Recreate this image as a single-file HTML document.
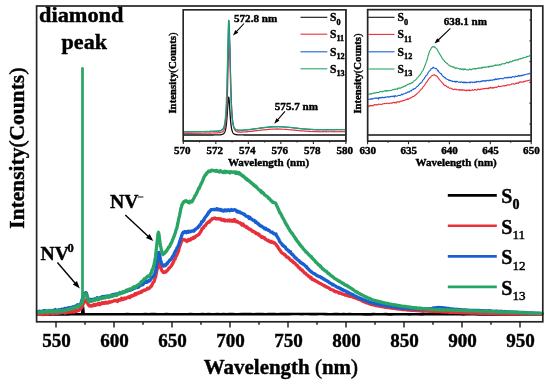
<!DOCTYPE html>
<html><head><meta charset="utf-8">
<style>
html,body{margin:0;padding:0;background:#fff;}
body{width:550px;height:385px;overflow:hidden;}
svg{display:block;will-change:transform;}
text{font-family:"Liberation Serif",serif;font-weight:bold;fill:#000;stroke:#000;stroke-width:0.4px;}
</style></head><body>
<svg width="550" height="385" viewBox="0 0 550 385">
<rect width="550" height="385" fill="#fff"/>
<!-- main curves -->
<g fill="none" stroke-linejoin="round" stroke-linecap="round">
<path d="M37.50 314.50 L40.50 314.26 L43.50 314.41 L46.50 314.35 L49.50 314.35 L52.50 314.35 L55.50 314.26 L58.50 314.34 L61.50 314.30 L64.50 314.50 L67.50 314.34 L70.50 314.31 L73.50 314.30 L76.50 314.28 L79.50 314.25 L82.10 314.29 L82.88 306.50 L82.92 306.50 L83.70 314.29 L85.50 314.31 L88.50 314.26 L91.50 314.31 L94.50 314.25 L97.50 314.25 L100.50 314.31 L103.50 314.25 L106.50 314.19 L109.50 314.20 L112.50 314.23 L115.50 314.30 L118.50 314.19 L121.50 314.19 L124.50 314.25 L127.50 314.16 L130.50 314.19 L133.50 314.24 L136.50 314.23 L139.50 314.20 L142.50 314.23 L145.50 314.06 L148.50 314.25 L151.50 314.15 L154.50 314.12 L157.50 314.21 L160.50 314.24 L163.50 314.18 L166.50 314.15 L169.50 314.20 L172.50 314.20 L175.50 314.27 L178.50 314.24 L181.50 314.21 L184.50 314.26 L187.50 314.19 L190.50 314.15 L193.50 314.23 L196.50 314.23 L199.50 314.19 L202.50 314.16 L205.50 314.21 L208.50 314.07 L211.50 314.23 L214.50 314.22 L217.50 314.11 L220.50 314.19 L223.50 314.14 L226.50 314.22 L229.50 314.08 L232.50 314.13 L235.50 314.21 L238.50 314.22 L241.50 314.05 L244.50 314.13 L247.50 314.17 L250.50 314.12 L253.50 314.22 L256.50 314.08 L259.50 314.15 L262.50 314.08 L265.50 314.20 L268.50 314.12 L271.50 314.10 L274.50 314.03 L277.50 314.20 L280.50 314.15 L283.50 314.14 L286.50 314.16 L289.50 314.12 L292.50 314.07 L295.50 314.06 L298.50 314.06 L301.50 314.17 L304.50 314.03 L307.50 314.07 L310.50 314.09 L313.50 314.12 L316.50 314.14 L319.50 314.06 L322.50 314.04 L325.50 314.13 L328.50 314.20 L331.50 314.18 L334.50 314.17 L337.50 314.15 L340.50 314.19 L343.50 314.17 L346.50 314.23 L349.50 314.16 L352.50 314.21 L355.50 314.21 L358.50 314.25 L361.50 314.25 L364.50 314.37 L367.50 314.33 L370.50 314.33 L373.50 314.16 L376.50 314.26 L379.50 314.25 L382.50 314.31 L385.50 314.17 L388.50 314.35 L391.50 314.35 L394.50 314.23 L397.50 314.25 L400.50 314.26 L403.50 314.30 L406.50 314.32 L409.50 314.39 L412.50 314.27 L415.50 314.30 L418.50 314.26 L421.50 314.33 L424.50 314.27 L427.50 314.29 L430.50 314.16 L433.50 314.20 L436.50 314.16 L439.50 314.28 L442.50 314.23 L445.50 314.19 L448.50 314.19 L451.50 314.24 L454.50 314.19 L457.50 314.19 L460.50 314.28 L463.50 314.39 L466.50 314.27 L469.50 314.27 L472.50 314.25 L475.50 314.26 L478.50 314.37 L481.50 314.40 L484.50 314.37 L487.50 314.39 L490.50 314.39 L493.50 314.40 L496.50 314.32 L499.50 314.38 L502.50 314.41 L505.50 314.36 L508.50 314.38 L511.50 314.36 L514.50 314.38 L517.50 314.44 L520.50 314.38 L523.50 314.39 L526.50 314.44 L529.50 314.43 L532.50 314.48 L535.50 314.30 L538.50 314.44 L541.50 314.38" stroke="#000" stroke-width="2.6"/>
<path d="M37.50 313.93 L38.00 314.18 L38.50 314.26 L39.00 314.22 L39.50 313.87 L40.00 314.40 L40.50 313.67 L41.00 313.70 L41.50 314.04 L42.00 313.51 L42.50 314.52 L43.00 314.06 L43.50 314.48 L44.00 313.63 L44.50 313.47 L45.00 313.66 L45.50 313.85 L46.00 313.33 L46.50 313.68 L47.00 313.50 L47.50 314.10 L48.00 313.22 L48.50 313.84 L49.00 313.18 L49.50 313.04 L50.00 313.11 L50.50 312.91 L51.00 313.39 L51.50 313.71 L52.00 313.35 L52.50 313.51 L53.00 313.87 L53.50 313.33 L54.00 313.27 L54.50 313.07 L55.00 312.54 L55.50 313.42 L56.00 312.44 L56.50 313.33 L57.00 313.05 L57.50 313.46 L58.00 312.98 L58.50 312.67 L59.00 313.09 L59.50 312.72 L60.00 312.83 L60.50 312.89 L61.00 312.79 L61.50 312.74 L62.00 312.46 L62.50 312.67 L63.00 311.90 L63.50 312.62 L64.00 312.19 L64.50 313.03 L65.00 313.05 L65.50 311.79 L66.00 312.54 L66.50 312.40 L67.00 312.00 L67.50 312.55 L68.00 312.12 L68.50 311.57 L69.00 312.09 L69.50 312.07 L70.00 312.10 L70.50 311.52 L71.00 312.14 L71.50 312.11 L72.00 311.31 L72.50 311.40 L73.00 311.52 L73.50 311.24 L74.00 312.01 L74.50 311.31 L75.00 310.71 L75.50 310.64 L76.00 310.75 L76.50 311.46 L77.00 310.33 L77.50 310.25 L78.00 310.20 L78.50 309.79 L79.00 310.48 L79.50 309.19 L80.00 309.41 L80.50 308.86 L81.00 308.51 L81.50 307.05 L82.00 307.22 L82.50 305.47 L83.00 304.48 L83.50 303.14 L84.00 302.14 L84.50 301.41 L85.00 300.58 L85.50 300.09 L86.00 300.62 L86.50 301.29 L87.00 302.08 L87.50 303.32 L88.00 304.11 L88.50 304.78 L89.00 305.75 L89.50 306.09 L90.00 305.67 L90.50 305.42 L91.00 305.79 L91.50 306.18 L92.00 305.31 L92.50 305.28 L93.00 305.18 L93.50 305.60 L94.00 304.34 L94.50 305.08 L95.00 305.28 L95.50 304.41 L96.00 305.18 L96.50 304.71 L97.00 304.19 L97.50 304.37 L98.00 303.60 L98.50 303.88 L99.00 304.69 L99.50 303.57 L100.00 304.53 L100.50 303.71 L101.00 304.03 L101.50 303.59 L102.00 302.63 L102.50 303.18 L103.00 303.38 L103.50 302.79 L104.00 302.62 L104.50 303.19 L105.00 302.71 L105.50 302.22 L106.00 302.52 L106.50 303.01 L107.00 302.41 L107.50 302.85 L108.00 302.98 L108.50 302.32 L109.00 301.77 L109.50 301.61 L110.00 301.99 L110.50 302.23 L111.00 301.89 L111.50 301.89 L112.00 301.41 L112.50 301.58 L113.00 301.18 L113.50 301.13 L114.00 300.65 L114.50 300.43 L115.00 300.73 L115.50 300.38 L116.00 300.32 L116.50 300.82 L117.00 300.41 L117.50 301.43 L118.00 300.56 L118.50 299.84 L119.00 300.25 L119.50 299.96 L120.00 299.44 L120.50 299.99 L121.00 299.14 L121.50 298.14 L122.00 299.47 L122.50 298.79 L123.00 299.45 L123.50 298.50 L124.00 298.15 L124.50 299.04 L125.00 297.89 L125.50 298.22 L126.00 298.54 L126.50 297.87 L127.00 297.63 L127.50 297.53 L128.00 297.64 L128.50 296.84 L129.00 297.20 L129.50 297.00 L130.00 297.49 L130.50 296.28 L131.00 295.87 L131.50 296.30 L132.00 295.68 L132.50 295.74 L133.00 295.48 L133.50 295.67 L134.00 294.77 L134.50 294.77 L135.00 293.63 L135.50 294.05 L136.00 294.75 L136.50 293.70 L137.00 293.47 L137.50 293.06 L138.00 293.52 L138.50 293.14 L139.00 292.39 L139.50 292.85 L140.00 292.45 L140.50 292.38 L141.00 291.59 L141.50 292.23 L142.00 291.47 L142.50 291.01 L143.00 290.59 L143.50 290.44 L144.00 290.61 L144.50 289.94 L145.00 290.21 L145.50 289.80 L146.00 289.90 L146.50 289.52 L147.00 289.01 L147.50 288.13 L148.00 288.78 L148.50 288.76 L149.00 288.28 L149.50 288.14 L150.00 287.42 L150.50 286.98 L151.00 286.10 L151.50 286.20 L152.00 284.90 L152.50 283.81 L153.00 282.62 L153.50 282.13 L154.00 281.69 L154.50 280.14 L155.00 278.32 L155.50 277.30 L156.00 274.91 L156.50 272.15 L157.00 269.59 L157.50 267.59 L158.00 265.03 L158.50 263.13 L159.00 261.70 L159.50 263.49 L160.00 265.06 L160.50 267.88 L161.00 267.65 L161.50 269.75 L162.00 270.84 L162.50 271.19 L163.00 272.11 L163.50 272.55 L164.00 272.50 L164.50 271.98 L165.00 271.95 L165.50 272.13 L166.00 271.90 L166.50 271.08 L167.00 270.64 L167.50 270.22 L168.00 270.04 L168.50 268.72 L169.00 268.08 L169.50 268.09 L170.00 267.08 L170.50 266.70 L171.00 266.30 L171.50 265.72 L172.00 264.34 L172.50 264.19 L173.00 262.30 L173.50 262.23 L174.00 260.43 L174.50 259.51 L175.00 259.19 L175.50 257.71 L176.00 256.47 L176.50 255.51 L177.00 254.75 L177.50 253.46 L178.00 252.18 L178.50 251.09 L179.00 248.77 L179.50 247.14 L180.00 245.40 L180.50 244.41 L181.00 242.85 L181.50 241.70 L182.00 240.23 L182.50 239.60 L183.00 239.83 L183.50 239.41 L184.00 239.99 L184.50 240.11 L185.00 239.75 L185.50 240.17 L186.00 240.32 L186.50 241.16 L187.00 241.57 L187.50 240.56 L188.00 240.54 L188.50 239.56 L189.00 240.35 L189.50 240.07 L190.00 239.44 L190.50 239.89 L191.00 238.73 L191.50 238.97 L192.00 238.83 L192.50 238.03 L193.00 238.57 L193.50 238.38 L194.00 237.17 L194.50 236.86 L195.00 237.31 L195.50 236.74 L196.00 235.94 L196.50 235.92 L197.00 235.60 L197.50 235.17 L198.00 235.10 L198.50 234.45 L199.00 234.40 L199.50 233.60 L200.00 232.61 L200.50 232.00 L201.00 231.31 L201.50 230.28 L202.00 228.76 L202.50 228.79 L203.00 227.79 L203.50 227.73 L204.00 226.57 L204.50 226.16 L205.00 225.53 L205.50 225.49 L206.00 224.39 L206.50 223.70 L207.00 223.43 L207.50 222.67 L208.00 222.45 L208.50 221.97 L209.00 221.68 L209.50 221.93 L210.00 220.64 L210.50 220.41 L211.00 219.92 L211.50 219.87 L212.00 218.81 L212.50 218.68 L213.00 218.66 L213.50 218.68 L214.00 218.33 L214.50 218.11 L215.00 217.98 L215.50 218.55 L216.00 218.96 L216.50 218.61 L217.00 218.65 L217.50 218.85 L218.00 218.43 L218.50 218.78 L219.00 218.90 L219.50 219.22 L220.00 219.19 L220.50 218.83 L221.00 219.82 L221.50 220.15 L222.00 219.52 L222.50 219.89 L223.00 219.97 L223.50 220.28 L224.00 219.54 L224.50 220.82 L225.00 220.13 L225.50 220.88 L226.00 220.51 L226.50 220.39 L227.00 220.52 L227.50 220.94 L228.00 220.27 L228.50 220.46 L229.00 220.42 L229.50 219.95 L230.00 221.09 L230.50 220.82 L231.00 220.59 L231.50 221.04 L232.00 220.24 L232.50 220.57 L233.00 221.26 L233.50 220.98 L234.00 219.81 L234.50 219.48 L235.00 220.48 L235.50 221.44 L236.00 221.03 L236.50 221.33 L237.00 221.85 L237.50 221.50 L238.00 222.13 L238.50 222.56 L239.00 222.65 L239.50 222.86 L240.00 222.74 L240.50 223.45 L241.00 223.38 L241.50 224.35 L242.00 225.14 L242.50 224.21 L243.00 223.98 L243.50 224.96 L244.00 225.58 L244.50 226.15 L245.00 226.47 L245.50 226.09 L246.00 226.41 L246.50 227.51 L247.00 226.95 L247.50 228.10 L248.00 227.94 L248.50 228.64 L249.00 228.94 L249.50 229.29 L250.00 229.62 L250.50 229.28 L251.00 230.07 L251.50 230.29 L252.00 230.72 L252.50 231.38 L253.00 231.15 L253.50 231.30 L254.00 231.61 L254.50 232.08 L255.00 232.77 L255.50 232.51 L256.00 233.52 L256.50 233.51 L257.00 233.63 L257.50 233.53 L258.00 234.39 L258.50 234.84 L259.00 234.27 L259.50 235.61 L260.00 236.08 L260.50 235.93 L261.00 236.30 L261.50 237.30 L262.00 237.22 L262.50 236.82 L263.00 237.46 L263.50 237.75 L264.00 238.09 L264.50 237.67 L265.00 239.06 L265.50 238.90 L266.00 239.48 L266.50 239.67 L267.00 240.29 L267.50 240.16 L268.00 240.23 L268.50 240.90 L269.00 241.39 L269.50 241.00 L270.00 241.74 L270.50 241.54 L271.00 241.45 L271.50 242.29 L272.00 241.71 L272.50 242.49 L273.00 242.21 L273.50 242.75 L274.00 242.45 L274.50 242.84 L275.00 243.76 L275.50 243.86 L276.00 244.38 L276.50 245.00 L277.00 246.13 L277.50 246.36 L278.00 247.22 L278.50 248.31 L279.00 248.88 L279.50 249.65 L280.00 250.48 L280.50 251.02 L281.00 251.54 L281.50 252.63 L282.00 252.93 L282.50 253.47 L283.00 253.55 L283.50 253.85 L284.00 253.99 L284.50 254.74 L285.00 254.63 L285.50 255.48 L286.00 256.27 L286.50 256.91 L287.00 257.09 L287.50 256.93 L288.00 257.70 L288.50 257.70 L289.00 258.55 L289.50 258.66 L290.00 259.33 L290.50 260.21 L291.00 260.14 L291.50 260.95 L292.00 260.76 L292.50 261.05 L293.00 261.98 L293.50 262.55 L294.00 262.39 L294.50 263.05 L295.00 263.13 L295.50 263.97 L296.00 264.78 L296.50 265.02 L297.00 265.39 L297.50 265.67 L298.00 266.66 L298.50 267.27 L299.00 267.71 L299.50 268.10 L300.00 268.16 L300.50 269.44 L301.00 269.42 L301.50 269.87 L302.00 270.58 L302.50 270.28 L303.00 271.31 L303.50 271.75 L304.00 272.35 L304.50 273.07 L305.00 273.30 L305.50 273.15 L306.00 273.98 L306.50 274.56 L307.00 274.97 L307.50 275.03 L308.00 275.35 L308.50 276.31 L309.00 276.65 L309.50 276.93 L310.00 276.87 L310.50 278.10 L311.00 277.28 L311.50 278.25 L312.00 279.19 L312.50 278.96 L313.00 279.37 L313.50 279.35 L314.00 280.27 L314.50 279.93 L315.00 280.61 L315.50 280.87 L316.00 280.88 L316.50 281.63 L317.00 281.37 L317.50 281.83 L318.00 282.26 L318.50 282.45 L319.00 282.93 L319.50 283.31 L320.00 283.30 L320.50 283.52 L321.00 283.79 L321.50 284.10 L322.00 284.64 L322.50 284.68 L323.00 285.09 L323.50 285.25 L324.00 285.36 L324.50 286.01 L325.00 285.87 L325.50 286.37 L326.00 286.97 L326.50 286.68 L327.00 287.18 L327.50 287.12 L328.00 287.62 L328.50 287.67 L329.00 288.18 L329.50 288.41 L330.00 288.81 L330.50 289.37 L331.00 289.35 L331.50 289.68 L332.00 289.78 L332.50 289.98 L333.00 290.10 L333.50 290.14 L334.00 290.75 L334.50 291.28 L335.00 291.27 L335.50 291.29 L336.00 291.93 L336.50 291.72 L337.00 291.88 L337.50 291.97 L338.00 292.21 L338.50 292.54 L339.00 293.16 L339.50 292.92 L340.00 292.95 L340.50 293.21 L341.00 293.46 L341.50 293.36 L342.00 293.87 L342.50 294.15 L343.00 294.25 L343.50 294.46 L344.00 294.28 L344.50 294.38 L345.00 295.08 L345.50 295.20 L346.00 294.89 L346.50 295.36 L347.00 295.48 L347.50 295.73 L348.00 295.83 L348.50 295.86 L349.00 296.13 L349.50 296.28 L350.00 296.39 L350.50 296.22 L351.00 296.17 L351.50 296.67 L352.00 296.67 L352.50 297.11 L353.00 297.33 L353.50 297.39 L354.00 297.43 L354.50 297.65 L355.00 297.99 L355.50 297.85 L356.00 298.29 L356.50 298.44 L357.00 298.56 L357.50 298.94 L358.00 298.80 L358.50 299.27 L359.00 299.20 L359.50 299.44 L360.00 299.62 L360.50 300.07 L361.00 300.09 L361.50 300.46 L362.00 300.52 L362.50 301.07 L363.00 301.41 L363.50 301.40 L364.00 301.83 L364.50 301.90 L365.00 302.35 L365.50 302.28 L366.00 302.27 L366.50 302.90 L367.00 302.88 L367.50 302.96 L368.00 303.21 L368.50 303.27 L369.00 303.64 L369.50 303.69 L370.00 304.19 L370.50 304.24 L371.00 304.08 L371.50 304.23 L372.00 304.48 L372.50 304.44 L373.00 304.79 L373.50 304.91 L374.00 304.94 L374.50 305.08 L375.00 305.32 L375.50 305.54 L376.00 305.65 L376.50 305.58 L377.00 305.78 L377.50 305.69 L378.00 305.93 L378.50 305.86 L379.00 306.16 L379.50 306.01 L380.00 306.14 L380.50 306.34 L381.00 306.50 L381.50 306.35 L382.00 306.54 L382.50 306.70 L383.00 306.80 L383.50 306.75 L384.00 306.94 L384.50 306.98 L385.00 307.26 L385.50 307.23 L386.00 307.08 L386.50 307.06 L387.00 307.41 L387.50 307.61 L388.00 307.57 L388.50 307.72 L389.00 307.63 L389.50 307.60 L390.00 307.92 L390.50 307.92 L391.00 308.06 L391.50 307.88 L392.00 308.13 L392.50 308.10 L393.00 308.34 L393.50 308.24 L394.00 308.30 L394.50 308.37 L395.00 308.65 L395.50 308.57 L396.00 308.53 L396.50 308.56 L397.00 308.62 L397.50 308.98 L398.00 308.64 L398.50 308.82 L399.00 309.05 L399.50 309.17 L400.00 309.07 L400.50 309.23 L401.00 309.28 L401.50 309.36 L402.00 309.30 L402.50 309.55 L403.00 309.43 L403.50 309.64 L404.00 309.37 L404.50 309.66 L405.00 309.45 L405.50 309.47 L406.00 309.76 L406.50 309.65 L407.00 309.85 L407.50 309.71 L408.00 310.08 L408.50 309.93 L409.00 309.84 L409.50 310.04 L410.00 310.17 L410.50 310.02 L411.00 310.22 L411.50 310.44 L412.00 310.34 L412.50 310.28 L413.00 310.25 L413.50 310.43 L414.00 310.22 L414.50 310.08 L415.00 310.40 L415.50 310.39 L416.00 310.76 L416.50 310.60 L417.00 310.50 L417.50 310.52 L418.00 310.75 L418.50 310.62 L419.00 310.68 L419.50 310.77 L420.00 310.82 L420.50 310.85 L421.00 310.88 L421.50 311.04 L422.00 311.12 L422.50 310.74 L423.00 311.27 L423.50 311.00 L424.00 311.15 L424.50 310.94 L425.00 311.09 L425.50 311.09 L426.00 311.10 L426.50 311.21 L427.00 311.20 L427.50 311.03 L428.00 311.15 L428.50 311.27 L429.00 311.29 L429.50 311.18 L430.00 311.21 L430.50 311.24 L431.00 311.15 L431.50 311.14 L432.00 311.50 L432.50 311.29 L433.00 311.37 L433.50 311.28 L434.00 311.55 L434.50 311.62 L435.00 311.41 L435.50 311.52 L436.00 311.38 L436.50 311.71 L437.00 311.63 L437.50 311.44 L438.00 311.71 L438.50 311.63 L439.00 311.66 L439.50 311.68 L440.00 311.58 L440.50 311.62 L441.00 311.78 L441.50 311.73 L442.00 311.64 L442.50 312.03 L443.00 311.78 L443.50 311.76 L444.00 311.77 L444.50 311.97 L445.00 312.03 L445.50 311.96 L446.00 312.06 L446.50 311.81 L447.00 311.97 L447.50 311.98 L448.00 312.06 L448.50 312.15 L449.00 311.87 L449.50 312.51 L450.00 312.06 L450.50 312.23 L451.00 312.31 L451.50 312.34 L452.00 312.29 L452.50 311.94 L453.00 312.18 L453.50 312.43 L454.00 312.25 L454.50 312.25 L455.00 312.12 L455.50 312.57 L456.00 312.51 L456.50 312.36 L457.00 312.47 L457.50 312.50 L458.00 312.40 L458.50 312.52 L459.00 312.60 L459.50 312.65 L460.00 312.76 L460.50 312.62 L461.00 312.58 L461.50 312.70 L462.00 312.60 L462.50 312.54 L463.00 312.84 L463.50 312.68 L464.00 312.75 L464.50 312.83 L465.00 312.64 L465.50 312.86 L466.00 312.86 L466.50 312.81 L467.00 312.88 L467.50 312.76 L468.00 312.60 L468.50 312.85 L469.00 312.79 L469.50 313.01 L470.00 312.96 L470.50 312.88 L471.00 312.96 L471.50 313.13 L472.00 313.12 L472.50 313.04 L473.00 313.06 L473.50 312.99 L474.00 313.02 L474.50 313.12 L475.00 313.05 L475.50 313.11 L476.00 312.96 L476.50 312.90 L477.00 312.91 L477.50 313.08 L478.00 313.30 L478.50 313.30 L479.00 313.05 L479.50 312.99 L480.00 313.29 L480.50 313.26 L481.00 313.05 L481.50 313.35 L482.00 313.26 L482.50 313.41 L483.00 313.30 L483.50 313.38 L484.00 313.32 L484.50 313.18 L485.00 313.27 L485.50 313.23 L486.00 313.42 L486.50 313.21 L487.00 313.16 L487.50 313.44 L488.00 313.50 L488.50 313.55 L489.00 313.52 L489.50 313.21 L490.00 313.32 L490.50 313.35 L491.00 313.42 L491.50 313.18 L492.00 313.45 L492.50 313.49 L493.00 313.35 L493.50 313.49 L494.00 313.63 L494.50 313.50 L495.00 313.63 L495.50 313.64 L496.00 313.58 L496.50 313.58 L497.00 313.50 L497.50 313.71 L498.00 313.51 L498.50 313.49 L499.00 313.67 L499.50 313.51 L500.00 313.66 L500.50 313.74 L501.00 313.63 L501.50 313.65 L502.00 313.75 L502.50 313.74 L503.00 313.48 L503.50 313.51 L504.00 313.84 L504.50 313.74 L505.00 313.45 L505.50 313.55 L506.00 313.72 L506.50 313.61 L507.00 313.79 L507.50 313.75 L508.00 313.81 L508.50 313.62 L509.00 313.85 L509.50 314.02 L510.00 313.69 L510.50 313.96 L511.00 313.93 L511.50 313.89 L512.00 313.82 L512.50 313.69 L513.00 313.74 L513.50 313.94 L514.00 313.98 L514.50 314.01 L515.00 313.99 L515.50 313.99 L516.00 313.84 L516.50 313.75 L517.00 313.93 L517.50 313.97 L518.00 313.93 L518.50 313.75 L519.00 313.88 L519.50 313.77 L520.00 313.97 L520.50 313.83 L521.00 313.95 L521.50 314.01 L522.00 314.00 L522.50 314.15 L523.00 313.86 L523.50 313.74 L524.00 314.12 L524.50 314.19 L525.00 314.20 L525.50 314.07 L526.00 314.10 L526.50 314.06 L527.00 313.90 L527.50 313.99 L528.00 314.12 L528.50 314.00 L529.00 314.30 L529.50 313.90 L530.00 314.04 L530.50 314.23 L531.00 314.03 L531.50 313.97 L532.00 313.95 L532.50 314.03 L533.00 314.30 L533.50 314.18 L534.00 314.19 L534.50 314.08 L535.00 314.24 L535.50 314.16 L536.00 314.04 L536.50 314.10 L537.00 314.19 L537.50 314.31 L538.00 314.16 L538.50 314.24 L539.00 314.42 L539.50 314.09 L540.00 314.04 L540.50 314.31 L541.00 314.25 L541.50 314.19 L542.00 314.24" stroke="#e8303a" stroke-width="3.3"/>
<path d="M37.50 311.82 L38.00 312.07 L38.50 311.69 L39.00 312.05 L39.50 311.24 L40.00 311.31 L40.50 311.61 L41.00 311.32 L41.50 311.71 L42.00 311.37 L42.50 311.12 L43.00 311.35 L43.50 311.02 L44.00 310.57 L44.50 310.68 L45.00 310.75 L45.50 310.83 L46.00 311.00 L46.50 311.26 L47.00 311.07 L47.50 311.49 L48.00 311.26 L48.50 310.66 L49.00 311.31 L49.50 311.09 L50.00 310.43 L50.50 310.68 L51.00 310.94 L51.50 310.58 L52.00 310.84 L52.50 310.57 L53.00 310.65 L53.50 310.23 L54.00 310.46 L54.50 310.15 L55.00 310.52 L55.50 309.60 L56.00 310.35 L56.50 310.67 L57.00 310.40 L57.50 310.15 L58.00 310.34 L58.50 309.79 L59.00 309.77 L59.50 309.92 L60.00 309.96 L60.50 310.34 L61.00 309.57 L61.50 310.22 L62.00 309.16 L62.50 309.36 L63.00 309.54 L63.50 309.89 L64.00 309.10 L64.50 308.39 L65.00 309.24 L65.50 308.94 L66.00 308.41 L66.50 308.30 L67.00 308.30 L67.50 308.48 L68.00 308.57 L68.50 307.63 L69.00 308.94 L69.50 307.93 L70.00 307.67 L70.50 307.94 L71.00 307.59 L71.50 308.30 L72.00 307.68 L72.50 306.98 L73.00 306.83 L73.50 306.64 L74.00 306.55 L74.50 306.78 L75.00 306.13 L75.50 306.83 L76.00 306.02 L76.50 305.83 L77.00 306.07 L77.50 304.77 L78.00 304.96 L78.50 305.34 L79.00 304.91 L79.50 304.67 L80.00 304.54 L80.50 303.79 L81.00 303.20 L81.50 301.45 L82.00 299.63 L82.50 299.06 L83.00 296.53 L83.50 295.19 L84.00 295.05 L84.50 294.27 L85.00 293.09 L85.50 292.67 L86.00 292.68 L86.50 293.22 L87.00 295.62 L87.50 297.07 L88.00 298.24 L88.50 299.60 L89.00 300.34 L89.50 300.91 L90.00 300.77 L90.50 299.49 L91.00 300.42 L91.50 299.56 L92.00 299.34 L92.50 300.03 L93.00 299.36 L93.50 299.36 L94.00 299.74 L94.50 298.92 L95.00 298.67 L95.50 298.97 L96.00 299.14 L96.50 298.72 L97.00 297.77 L97.50 297.96 L98.00 298.01 L98.50 298.67 L99.00 298.15 L99.50 298.03 L100.00 298.06 L100.50 297.38 L101.00 297.58 L101.50 297.48 L102.00 296.82 L102.50 297.09 L103.00 297.22 L103.50 296.50 L104.00 297.12 L104.50 297.01 L105.00 297.02 L105.50 296.24 L106.00 296.48 L106.50 296.89 L107.00 296.55 L107.50 295.85 L108.00 296.13 L108.50 296.48 L109.00 295.81 L109.50 295.87 L110.00 296.59 L110.50 295.49 L111.00 295.34 L111.50 294.89 L112.00 294.90 L112.50 295.60 L113.00 294.86 L113.50 294.34 L114.00 294.31 L114.50 294.54 L115.00 294.71 L115.50 294.01 L116.00 294.43 L116.50 293.85 L117.00 294.04 L117.50 293.97 L118.00 293.86 L118.50 293.33 L119.00 293.30 L119.50 293.42 L120.00 292.59 L120.50 293.01 L121.00 292.99 L121.50 293.05 L122.00 292.50 L122.50 292.29 L123.00 292.27 L123.50 291.78 L124.00 291.83 L124.50 291.91 L125.00 291.71 L125.50 291.05 L126.00 291.17 L126.50 290.33 L127.00 291.28 L127.50 290.61 L128.00 290.74 L128.50 290.07 L129.00 290.29 L129.50 290.32 L130.00 290.36 L130.50 289.29 L131.00 289.96 L131.50 289.40 L132.00 288.98 L132.50 289.28 L133.00 288.79 L133.50 288.60 L134.00 288.25 L134.50 288.41 L135.00 288.13 L135.50 287.84 L136.00 287.33 L136.50 287.28 L137.00 287.41 L137.50 287.51 L138.00 286.78 L138.50 287.08 L139.00 286.26 L139.50 285.55 L140.00 285.89 L140.50 284.96 L141.00 285.14 L141.50 285.05 L142.00 284.19 L142.50 283.94 L143.00 284.58 L143.50 283.42 L144.00 283.13 L144.50 283.04 L145.00 282.46 L145.50 282.24 L146.00 282.23 L146.50 281.01 L147.00 282.30 L147.50 281.20 L148.00 281.04 L148.50 281.47 L149.00 281.06 L149.50 280.32 L150.00 280.57 L150.50 279.60 L151.00 279.10 L151.50 278.02 L152.00 277.48 L152.50 277.22 L153.00 276.45 L153.50 275.86 L154.00 275.34 L154.50 274.09 L155.00 272.74 L155.50 271.21 L156.00 269.56 L156.50 266.14 L157.00 263.28 L157.50 259.81 L158.00 255.58 L158.50 252.51 L159.00 252.39 L159.50 254.38 L160.00 256.99 L160.50 259.61 L161.00 261.66 L161.50 263.06 L162.00 264.29 L162.50 264.92 L163.00 265.24 L163.50 266.03 L164.00 265.98 L164.50 265.02 L165.00 265.67 L165.50 265.27 L166.00 265.30 L166.50 263.81 L167.00 263.27 L167.50 263.53 L168.00 262.00 L168.50 261.84 L169.00 261.12 L169.50 260.58 L170.00 259.67 L170.50 259.70 L171.00 259.48 L171.50 258.54 L172.00 257.74 L172.50 256.59 L173.00 256.40 L173.50 255.16 L174.00 254.46 L174.50 252.56 L175.00 252.35 L175.50 250.83 L176.00 250.40 L176.50 249.33 L177.00 247.79 L177.50 247.21 L178.00 246.48 L178.50 245.09 L179.00 243.96 L179.50 242.22 L180.00 240.93 L180.50 239.10 L181.00 237.78 L181.50 236.44 L182.00 234.65 L182.50 233.42 L183.00 232.53 L183.50 232.91 L184.00 232.49 L184.50 231.72 L185.00 231.68 L185.50 232.11 L186.00 231.81 L186.50 232.69 L187.00 231.98 L187.50 231.46 L188.00 231.57 L188.50 232.27 L189.00 231.22 L189.50 231.79 L190.00 231.58 L190.50 231.88 L191.00 231.43 L191.50 230.97 L192.00 231.20 L192.50 230.89 L193.00 231.07 L193.50 230.47 L194.00 230.99 L194.50 229.91 L195.00 229.79 L195.50 229.03 L196.00 228.94 L196.50 228.50 L197.00 228.13 L197.50 227.97 L198.00 226.98 L198.50 226.40 L199.00 226.62 L199.50 225.51 L200.00 224.75 L200.50 224.78 L201.00 223.94 L201.50 221.94 L202.00 222.07 L202.50 221.78 L203.00 221.08 L203.50 219.85 L204.00 219.92 L204.50 218.28 L205.00 217.72 L205.50 217.09 L206.00 216.28 L206.50 215.86 L207.00 215.26 L207.50 214.15 L208.00 213.95 L208.50 212.40 L209.00 211.85 L209.50 211.90 L210.00 210.69 L210.50 210.58 L211.00 209.68 L211.50 209.59 L212.00 209.57 L212.50 209.60 L213.00 209.34 L213.50 209.41 L214.00 209.61 L214.50 209.76 L215.00 209.31 L215.50 209.49 L216.00 209.57 L216.50 208.81 L217.00 208.62 L217.50 209.87 L218.00 209.85 L218.50 209.48 L219.00 209.73 L219.50 209.39 L220.00 209.37 L220.50 210.16 L221.00 209.60 L221.50 210.59 L222.00 210.05 L222.50 210.42 L223.00 211.04 L223.50 211.03 L224.00 210.21 L224.50 210.72 L225.00 209.92 L225.50 210.09 L226.00 210.45 L226.50 210.84 L227.00 210.09 L227.50 210.52 L228.00 210.34 L228.50 209.80 L229.00 210.18 L229.50 210.73 L230.00 210.05 L230.50 210.19 L231.00 210.24 L231.50 209.57 L232.00 210.25 L232.50 210.31 L233.00 210.32 L233.50 210.22 L234.00 209.63 L234.50 209.72 L235.00 209.83 L235.50 210.01 L236.00 210.31 L236.50 211.27 L237.00 211.73 L237.50 211.21 L238.00 212.03 L238.50 211.48 L239.00 212.06 L239.50 212.02 L240.00 211.99 L240.50 212.84 L241.00 213.07 L241.50 213.10 L242.00 213.28 L242.50 213.34 L243.00 213.90 L243.50 213.97 L244.00 214.54 L244.50 214.27 L245.00 215.10 L245.50 215.52 L246.00 216.12 L246.50 216.37 L247.00 216.39 L247.50 216.40 L248.00 216.32 L248.50 217.34 L249.00 218.20 L249.50 218.62 L250.00 217.38 L250.50 218.36 L251.00 218.82 L251.50 218.88 L252.00 219.65 L252.50 219.91 L253.00 220.02 L253.50 220.51 L254.00 220.27 L254.50 220.82 L255.00 221.18 L255.50 222.16 L256.00 221.61 L256.50 222.46 L257.00 223.17 L257.50 223.24 L258.00 223.90 L258.50 223.74 L259.00 224.47 L259.50 224.98 L260.00 225.78 L260.50 225.59 L261.00 226.15 L261.50 225.99 L262.00 226.34 L262.50 227.16 L263.00 227.13 L263.50 227.73 L264.00 227.80 L264.50 228.59 L265.00 228.98 L265.50 228.20 L266.00 229.41 L266.50 229.24 L267.00 229.56 L267.50 229.66 L268.00 230.25 L268.50 229.95 L269.00 230.39 L269.50 230.69 L270.00 231.36 L270.50 231.88 L271.00 232.13 L271.50 232.31 L272.00 232.30 L272.50 232.20 L273.00 233.18 L273.50 233.36 L274.00 233.64 L274.50 234.17 L275.00 233.86 L275.50 234.14 L276.00 233.99 L276.50 235.66 L277.00 236.34 L277.50 236.98 L278.00 238.18 L278.50 238.64 L279.00 239.72 L279.50 241.36 L280.00 241.74 L280.50 242.47 L281.00 243.06 L281.50 243.66 L282.00 244.13 L282.50 245.36 L283.00 245.21 L283.50 246.01 L284.00 246.27 L284.50 246.75 L285.00 246.64 L285.50 247.30 L286.00 248.84 L286.50 249.30 L287.00 249.21 L287.50 249.80 L288.00 250.46 L288.50 250.45 L289.00 251.73 L289.50 251.37 L290.00 251.93 L290.50 251.80 L291.00 253.51 L291.50 253.56 L292.00 254.49 L292.50 254.22 L293.00 255.10 L293.50 255.53 L294.00 256.06 L294.50 257.10 L295.00 257.65 L295.50 257.90 L296.00 257.91 L296.50 258.76 L297.00 259.38 L297.50 259.64 L298.00 260.13 L298.50 260.57 L299.00 260.66 L299.50 261.43 L300.00 262.24 L300.50 261.96 L301.00 262.66 L301.50 263.26 L302.00 263.06 L302.50 263.76 L303.00 263.72 L303.50 264.39 L304.00 264.56 L304.50 265.09 L305.00 265.60 L305.50 266.08 L306.00 266.55 L306.50 266.47 L307.00 268.03 L307.50 268.11 L308.00 268.48 L308.50 269.16 L309.00 269.94 L309.50 270.11 L310.00 270.70 L310.50 271.08 L311.00 271.71 L311.50 271.75 L312.00 272.40 L312.50 272.72 L313.00 272.92 L313.50 273.58 L314.00 273.59 L314.50 273.61 L315.00 274.25 L315.50 274.50 L316.00 274.74 L316.50 275.08 L317.00 275.86 L317.50 275.63 L318.00 275.95 L318.50 276.05 L319.00 276.68 L319.50 276.63 L320.00 276.72 L320.50 276.90 L321.00 277.57 L321.50 277.90 L322.00 277.66 L322.50 278.14 L323.00 278.74 L323.50 279.13 L324.00 278.91 L324.50 279.42 L325.00 280.00 L325.50 280.00 L326.00 280.33 L326.50 280.62 L327.00 280.76 L327.50 281.37 L328.00 281.73 L328.50 281.67 L329.00 282.30 L329.50 282.82 L330.00 282.94 L330.50 283.40 L331.00 283.39 L331.50 284.09 L332.00 283.94 L332.50 284.79 L333.00 284.60 L333.50 284.84 L334.00 285.10 L334.50 285.48 L335.00 285.75 L335.50 285.99 L336.00 286.33 L336.50 286.80 L337.00 287.11 L337.50 287.14 L338.00 287.70 L338.50 287.53 L339.00 287.78 L339.50 288.02 L340.00 288.60 L340.50 288.44 L341.00 288.72 L341.50 289.47 L342.00 289.80 L342.50 289.97 L343.00 289.69 L343.50 290.21 L344.00 290.60 L344.50 290.71 L345.00 290.65 L345.50 291.12 L346.00 291.12 L346.50 291.45 L347.00 292.29 L347.50 292.27 L348.00 292.15 L348.50 292.39 L349.00 292.98 L349.50 293.05 L350.00 293.50 L350.50 293.55 L351.00 293.88 L351.50 294.21 L352.00 294.26 L352.50 294.37 L353.00 294.74 L353.50 295.07 L354.00 295.40 L354.50 295.66 L355.00 295.89 L355.50 296.21 L356.00 296.22 L356.50 296.81 L357.00 297.13 L357.50 297.11 L358.00 297.31 L358.50 297.70 L359.00 297.84 L359.50 298.00 L360.00 298.17 L360.50 298.31 L361.00 298.48 L361.50 298.97 L362.00 299.27 L362.50 299.16 L363.00 299.52 L363.50 299.78 L364.00 299.90 L364.50 300.06 L365.00 300.32 L365.50 300.30 L366.00 300.76 L366.50 300.92 L367.00 301.44 L367.50 301.47 L368.00 301.47 L368.50 301.69 L369.00 302.09 L369.50 302.24 L370.00 302.21 L370.50 302.32 L371.00 302.30 L371.50 302.58 L372.00 302.74 L372.50 302.80 L373.00 303.24 L373.50 302.92 L374.00 303.26 L374.50 303.45 L375.00 303.58 L375.50 303.85 L376.00 303.60 L376.50 303.79 L377.00 304.00 L377.50 304.12 L378.00 304.16 L378.50 304.23 L379.00 304.55 L379.50 304.40 L380.00 304.56 L380.50 304.90 L381.00 305.03 L381.50 305.03 L382.00 304.91 L382.50 305.01 L383.00 305.09 L383.50 305.15 L384.00 305.33 L384.50 305.62 L385.00 305.58 L385.50 305.55 L386.00 305.63 L386.50 305.66 L387.00 306.03 L387.50 305.72 L388.00 306.08 L388.50 305.95 L389.00 306.08 L389.50 306.10 L390.00 306.47 L390.50 306.42 L391.00 306.84 L391.50 306.46 L392.00 306.53 L392.50 306.80 L393.00 306.87 L393.50 306.84 L394.00 306.70 L394.50 307.19 L395.00 307.15 L395.50 307.20 L396.00 307.15 L396.50 307.36 L397.00 307.28 L397.50 307.42 L398.00 307.45 L398.50 307.68 L399.00 307.53 L399.50 307.61 L400.00 307.84 L400.50 307.79 L401.00 307.81 L401.50 307.83 L402.00 308.03 L402.50 307.88 L403.00 308.06 L403.50 308.29 L404.00 308.14 L404.50 308.04 L405.00 308.03 L405.50 308.24 L406.00 308.12 L406.50 308.12 L407.00 308.26 L407.50 308.26 L408.00 308.54 L408.50 308.31 L409.00 308.71 L409.50 308.47 L410.00 308.62 L410.50 308.73 L411.00 308.71 L411.50 308.81 L412.00 308.64 L412.50 308.52 L413.00 308.81 L413.50 308.66 L414.00 308.82 L414.50 309.04 L415.00 308.93 L415.50 308.90 L416.00 308.86 L416.50 308.98 L417.00 309.02 L417.50 308.86 L418.00 309.10 L418.50 308.95 L419.00 309.11 L419.50 309.03 L420.00 309.21 L420.50 309.19 L421.00 309.09 L421.50 309.07 L422.00 309.13 L422.50 309.24 L423.00 309.19 L423.50 309.07 L424.00 309.08 L424.50 309.21 L425.00 308.81 L425.50 309.06 L426.00 308.87 L426.50 309.12 L427.00 308.88 L427.50 308.90 L428.00 308.76 L428.50 308.87 L429.00 308.94 L429.50 309.02 L430.00 308.64 L430.50 308.71 L431.00 309.17 L431.50 308.74 L432.00 308.53 L432.50 308.50 L433.00 308.01 L433.50 308.42 L434.00 308.14 L434.50 307.85 L435.00 308.08 L435.50 307.78 L436.00 307.68 L436.50 307.81 L437.00 307.74 L437.50 307.59 L438.00 307.59 L438.50 307.40 L439.00 307.35 L439.50 307.62 L440.00 307.66 L440.50 307.56 L441.00 307.59 L441.50 307.54 L442.00 307.64 L442.50 307.61 L443.00 308.02 L443.50 307.83 L444.00 308.03 L444.50 308.07 L445.00 307.99 L445.50 308.47 L446.00 308.25 L446.50 308.27 L447.00 308.44 L447.50 308.38 L448.00 308.55 L448.50 308.49 L449.00 308.74 L449.50 308.74 L450.00 308.62 L450.50 308.97 L451.00 308.93 L451.50 308.83 L452.00 309.06 L452.50 309.12 L453.00 309.34 L453.50 309.06 L454.00 309.32 L454.50 309.25 L455.00 309.37 L455.50 309.31 L456.00 309.37 L456.50 309.48 L457.00 309.31 L457.50 309.24 L458.00 309.52 L458.50 309.51 L459.00 309.60 L459.50 309.70 L460.00 309.63 L460.50 309.83 L461.00 309.72 L461.50 309.77 L462.00 309.88 L462.50 309.88 L463.00 309.83 L463.50 309.89 L464.00 309.81 L464.50 309.85 L465.00 309.96 L465.50 310.08 L466.00 309.95 L466.50 310.13 L467.00 310.29 L467.50 310.34 L468.00 310.11 L468.50 310.26 L469.00 310.23 L469.50 310.28 L470.00 310.31 L470.50 310.29 L471.00 310.35 L471.50 310.30 L472.00 310.27 L472.50 310.35 L473.00 310.40 L473.50 310.51 L474.00 310.43 L474.50 310.49 L475.00 310.59 L475.50 310.33 L476.00 310.43 L476.50 310.54 L477.00 310.50 L477.50 310.39 L478.00 310.65 L478.50 310.54 L479.00 310.45 L479.50 310.82 L480.00 310.45 L480.50 310.63 L481.00 310.56 L481.50 310.68 L482.00 310.75 L482.50 310.60 L483.00 310.71 L483.50 310.73 L484.00 310.64 L484.50 310.92 L485.00 310.83 L485.50 310.79 L486.00 310.77 L486.50 310.83 L487.00 310.91 L487.50 310.86 L488.00 311.09 L488.50 310.65 L489.00 310.72 L489.50 310.97 L490.00 310.80 L490.50 311.04 L491.00 310.99 L491.50 311.16 L492.00 311.16 L492.50 311.29 L493.00 311.27 L493.50 311.33 L494.00 311.26 L494.50 311.35 L495.00 311.31 L495.50 311.20 L496.00 311.14 L496.50 311.17 L497.00 311.39 L497.50 311.07 L498.00 311.40 L498.50 311.31 L499.00 311.52 L499.50 311.47 L500.00 311.38 L500.50 311.50 L501.00 311.25 L501.50 311.57 L502.00 311.62 L502.50 311.37 L503.00 311.72 L503.50 311.62 L504.00 311.68 L504.50 311.51 L505.00 311.78 L505.50 311.80 L506.00 311.75 L506.50 311.66 L507.00 311.89 L507.50 311.97 L508.00 311.90 L508.50 311.99 L509.00 311.83 L509.50 311.94 L510.00 311.99 L510.50 311.99 L511.00 312.33 L511.50 312.07 L512.00 311.97 L512.50 312.17 L513.00 311.96 L513.50 312.16 L514.00 312.23 L514.50 312.11 L515.00 312.15 L515.50 312.10 L516.00 312.26 L516.50 312.18 L517.00 312.50 L517.50 312.39 L518.00 312.31 L518.50 312.19 L519.00 312.63 L519.50 312.57 L520.00 312.50 L520.50 312.49 L521.00 312.51 L521.50 312.46 L522.00 312.77 L522.50 312.59 L523.00 312.42 L523.50 312.54 L524.00 312.33 L524.50 312.75 L525.00 312.79 L525.50 312.93 L526.00 313.00 L526.50 312.68 L527.00 312.85 L527.50 312.95 L528.00 312.95 L528.50 312.82 L529.00 313.00 L529.50 312.99 L530.00 313.12 L530.50 312.98 L531.00 312.98 L531.50 312.97 L532.00 313.02 L532.50 313.00 L533.00 313.07 L533.50 313.20 L534.00 313.22 L534.50 313.35 L535.00 313.35 L535.50 313.33 L536.00 313.14 L536.50 313.37 L537.00 313.47 L537.50 313.20 L538.00 313.25 L538.50 313.30 L539.00 313.32 L539.50 313.43 L540.00 313.38 L540.50 313.57 L541.00 313.41 L541.50 313.56 L542.00 313.55" stroke="#1860d2" stroke-width="3.3"/>
<path d="M37.50 312.10 L38.00 312.81 L38.50 312.37 L39.00 312.52 L39.50 312.14 L40.00 312.48 L40.50 312.40 L41.00 312.06 L41.50 311.40 L42.00 312.34 L42.50 312.24 L43.00 312.01 L43.50 311.99 L44.00 311.90 L44.50 311.89 L45.00 311.39 L45.50 311.71 L46.00 311.82 L46.50 311.43 L47.00 311.25 L47.50 312.30 L48.00 311.79 L48.50 311.41 L49.00 311.30 L49.50 310.45 L50.00 310.89 L50.50 311.30 L51.00 311.86 L51.50 310.56 L52.00 311.05 L52.50 312.02 L53.00 311.52 L53.50 311.40 L54.00 311.68 L54.50 311.16 L55.00 311.12 L55.50 311.44 L56.00 311.48 L56.50 310.74 L57.00 311.71 L57.50 310.46 L58.00 310.84 L58.50 312.26 L59.00 310.88 L59.50 311.30 L60.00 310.64 L60.50 310.86 L61.00 310.66 L61.50 310.71 L62.00 311.02 L62.50 311.34 L63.00 310.90 L63.50 311.04 L64.00 310.14 L64.50 310.76 L65.00 310.28 L65.50 310.46 L66.00 309.65 L66.50 309.59 L67.00 310.07 L67.50 309.67 L68.00 309.36 L68.50 308.96 L69.00 309.08 L69.50 309.21 L70.00 309.21 L70.50 308.63 L71.00 308.62 L71.50 308.81 L72.00 308.13 L72.50 308.80 L73.00 308.32 L73.50 308.15 L74.00 307.15 L74.50 307.31 L75.00 307.35 L75.50 307.33 L76.00 306.92 L76.50 307.26 L77.00 306.93 L77.50 306.54 L78.00 305.63 L78.50 306.70 L79.00 305.84 L79.50 305.92 L80.00 305.13 L80.50 305.00 L81.00 304.56 L81.50 303.25 L82.00 302.13 L82.50 300.17 L83.00 299.51 L83.50 296.73 L84.00 296.29 L84.50 296.11 L85.00 294.94 L85.50 294.34 L86.00 293.62 L86.50 295.48 L87.00 295.85 L87.50 298.19 L88.00 299.24 L88.50 300.67 L89.00 301.69 L89.50 301.03 L90.00 300.96 L90.50 301.09 L91.00 300.48 L91.50 301.35 L92.00 300.77 L92.50 300.85 L93.00 300.21 L93.50 300.48 L94.00 300.08 L94.50 300.11 L95.00 299.54 L95.50 300.17 L96.00 299.35 L96.50 298.45 L97.00 299.50 L97.50 298.98 L98.00 298.61 L98.50 299.76 L99.00 298.67 L99.50 298.07 L100.00 298.24 L100.50 298.51 L101.00 298.19 L101.50 298.65 L102.00 298.49 L102.50 297.70 L103.00 297.93 L103.50 298.07 L104.00 297.59 L104.50 297.48 L105.00 297.91 L105.50 297.66 L106.00 296.87 L106.50 297.10 L107.00 297.06 L107.50 297.08 L108.00 296.75 L108.50 297.43 L109.00 296.45 L109.50 296.29 L110.00 296.66 L110.50 295.60 L111.00 295.94 L111.50 296.44 L112.00 295.56 L112.50 295.60 L113.00 296.18 L113.50 295.79 L114.00 295.49 L114.50 295.40 L115.00 294.89 L115.50 295.10 L116.00 294.74 L116.50 295.59 L117.00 294.67 L117.50 294.16 L118.00 294.09 L118.50 293.95 L119.00 293.22 L119.50 293.24 L120.00 293.94 L120.50 292.64 L121.00 292.76 L121.50 293.17 L122.00 293.16 L122.50 292.00 L123.00 292.75 L123.50 291.86 L124.00 292.42 L124.50 291.78 L125.00 291.29 L125.50 291.47 L126.00 291.21 L126.50 290.50 L127.00 291.41 L127.50 290.26 L128.00 290.63 L128.50 289.80 L129.00 289.09 L129.50 289.15 L130.00 289.33 L130.50 289.41 L131.00 289.60 L131.50 288.74 L132.00 288.38 L132.50 287.78 L133.00 287.99 L133.50 287.88 L134.00 286.67 L134.50 287.75 L135.00 287.42 L135.50 287.58 L136.00 286.08 L136.50 286.15 L137.00 285.84 L137.50 285.01 L138.00 284.87 L138.50 284.46 L139.00 284.63 L139.50 284.16 L140.00 284.03 L140.50 282.87 L141.00 281.97 L141.50 282.13 L142.00 281.57 L142.50 281.15 L143.00 280.84 L143.50 279.64 L144.00 279.68 L144.50 278.53 L145.00 278.55 L145.50 278.38 L146.00 277.75 L146.50 277.58 L147.00 276.69 L147.50 276.69 L148.00 276.70 L148.50 275.86 L149.00 275.62 L149.50 276.43 L150.00 275.09 L150.50 273.96 L151.00 272.92 L151.50 272.69 L152.00 269.84 L152.50 269.45 L153.00 268.40 L153.50 266.38 L154.00 264.98 L154.50 262.29 L155.00 260.13 L155.50 256.47 L156.00 251.97 L156.50 247.33 L157.00 242.97 L157.50 238.70 L158.00 233.79 L158.50 232.30 L159.00 234.59 L159.50 238.64 L160.00 242.57 L160.50 245.62 L161.00 247.95 L161.50 250.58 L162.00 251.90 L162.50 253.09 L163.00 254.64 L163.50 253.88 L164.00 253.14 L164.50 252.64 L165.00 252.97 L165.50 251.63 L166.00 251.80 L166.50 250.91 L167.00 250.52 L167.50 249.01 L168.00 248.90 L168.50 247.14 L169.00 247.04 L169.50 246.73 L170.00 245.73 L170.50 243.85 L171.00 243.82 L171.50 242.67 L172.00 241.36 L172.50 239.93 L173.00 238.87 L173.50 237.46 L174.00 236.69 L174.50 235.11 L175.00 233.89 L175.50 232.24 L176.00 229.94 L176.50 228.87 L177.00 227.79 L177.50 224.44 L178.00 222.70 L178.50 219.96 L179.00 217.61 L179.50 215.55 L180.00 213.12 L180.50 210.45 L181.00 208.13 L181.50 206.74 L182.00 204.39 L182.50 204.09 L183.00 202.92 L183.50 201.98 L184.00 201.70 L184.50 201.20 L185.00 201.82 L185.50 200.99 L186.00 200.68 L186.50 201.30 L187.00 201.21 L187.50 201.57 L188.00 202.34 L188.50 201.84 L189.00 201.99 L189.50 202.78 L190.00 201.29 L190.50 201.84 L191.00 201.97 L191.50 201.91 L192.00 201.93 L192.50 200.34 L193.00 200.14 L193.50 199.03 L194.00 197.97 L194.50 196.88 L195.00 195.61 L195.50 195.35 L196.00 194.62 L196.50 192.99 L197.00 192.72 L197.50 191.22 L198.00 190.03 L198.50 188.38 L199.00 188.77 L199.50 187.58 L200.00 186.16 L200.50 185.11 L201.00 183.75 L201.50 183.39 L202.00 182.06 L202.50 181.17 L203.00 179.90 L203.50 178.19 L204.00 177.07 L204.50 176.82 L205.00 175.10 L205.50 175.04 L206.00 174.60 L206.50 173.15 L207.00 173.29 L207.50 172.46 L208.00 172.12 L208.50 171.21 L209.00 171.09 L209.50 171.02 L210.00 171.46 L210.50 171.00 L211.00 170.87 L211.50 170.15 L212.00 170.75 L212.50 170.34 L213.00 170.56 L213.50 170.68 L214.00 170.95 L214.50 170.82 L215.00 170.71 L215.50 170.66 L216.00 171.27 L216.50 170.48 L217.00 170.91 L217.50 171.50 L218.00 170.97 L218.50 171.44 L219.00 171.52 L219.50 172.00 L220.00 171.74 L220.50 170.75 L221.00 171.45 L221.50 171.63 L222.00 171.91 L222.50 171.81 L223.00 172.44 L223.50 172.21 L224.00 171.39 L224.50 171.65 L225.00 171.15 L225.50 172.64 L226.00 171.95 L226.50 171.97 L227.00 171.44 L227.50 171.90 L228.00 172.24 L228.50 171.94 L229.00 171.96 L229.50 171.89 L230.00 172.90 L230.50 171.95 L231.00 171.63 L231.50 172.01 L232.00 172.10 L232.50 172.24 L233.00 172.22 L233.50 171.92 L234.00 172.32 L234.50 172.60 L235.00 171.97 L235.50 173.34 L236.00 173.31 L236.50 172.03 L237.00 172.68 L237.50 173.31 L238.00 173.55 L238.50 173.84 L239.00 172.63 L239.50 173.18 L240.00 173.74 L240.50 174.51 L241.00 174.27 L241.50 175.23 L242.00 175.60 L242.50 176.06 L243.00 175.64 L243.50 176.58 L244.00 176.90 L244.50 177.09 L245.00 178.14 L245.50 177.91 L246.00 178.97 L246.50 178.59 L247.00 179.87 L247.50 180.25 L248.00 179.71 L248.50 180.56 L249.00 180.97 L249.50 180.89 L250.00 181.97 L250.50 182.31 L251.00 182.18 L251.50 182.97 L252.00 183.69 L252.50 183.73 L253.00 183.96 L253.50 185.27 L254.00 184.74 L254.50 185.67 L255.00 186.41 L255.50 186.73 L256.00 186.23 L256.50 187.23 L257.00 187.75 L257.50 188.17 L258.00 188.93 L258.50 189.34 L259.00 189.64 L259.50 190.14 L260.00 190.84 L260.50 191.37 L261.00 190.69 L261.50 192.57 L262.00 192.05 L262.50 192.95 L263.00 192.55 L263.50 193.38 L264.00 193.56 L264.50 194.81 L265.00 195.18 L265.50 195.31 L266.00 195.69 L266.50 196.32 L267.00 196.30 L267.50 196.85 L268.00 197.23 L268.50 198.22 L269.00 198.42 L269.50 198.45 L270.00 199.48 L270.50 200.02 L271.00 200.77 L271.50 200.58 L272.00 201.33 L272.50 202.29 L273.00 201.86 L273.50 202.18 L274.00 202.71 L274.50 202.58 L275.00 202.97 L275.50 203.13 L276.00 203.73 L276.50 205.37 L277.00 206.22 L277.50 207.17 L278.00 208.42 L278.50 209.48 L279.00 210.62 L279.50 211.83 L280.00 213.08 L280.50 213.13 L281.00 214.42 L281.50 214.90 L282.00 216.50 L282.50 217.54 L283.00 218.12 L283.50 218.97 L284.00 219.87 L284.50 220.62 L285.00 222.17 L285.50 223.45 L286.00 223.41 L286.50 225.12 L287.00 225.46 L287.50 225.93 L288.00 227.36 L288.50 228.25 L289.00 228.97 L289.50 229.58 L290.00 230.95 L290.50 231.16 L291.00 232.21 L291.50 232.98 L292.00 233.29 L292.50 233.76 L293.00 234.54 L293.50 235.66 L294.00 236.60 L294.50 236.71 L295.00 237.72 L295.50 239.07 L296.00 238.83 L296.50 240.17 L297.00 240.83 L297.50 241.64 L298.00 241.69 L298.50 242.87 L299.00 243.06 L299.50 244.46 L300.00 244.50 L300.50 245.47 L301.00 245.76 L301.50 246.61 L302.00 246.75 L302.50 247.82 L303.00 248.47 L303.50 248.87 L304.00 249.86 L304.50 250.08 L305.00 250.73 L305.50 251.19 L306.00 252.08 L306.50 251.95 L307.00 252.58 L307.50 253.11 L308.00 253.85 L308.50 254.28 L309.00 254.95 L309.50 255.33 L310.00 255.65 L310.50 256.28 L311.00 256.93 L311.50 256.78 L312.00 258.22 L312.50 258.26 L313.00 258.83 L313.50 259.51 L314.00 259.90 L314.50 260.13 L315.00 260.94 L315.50 261.85 L316.00 262.28 L316.50 262.84 L317.00 262.91 L317.50 263.50 L318.00 264.30 L318.50 264.90 L319.00 265.05 L319.50 265.30 L320.00 265.56 L320.50 266.82 L321.00 266.61 L321.50 267.53 L322.00 268.10 L322.50 269.09 L323.00 268.84 L323.50 269.21 L324.00 269.78 L324.50 270.23 L325.00 270.86 L325.50 271.14 L326.00 271.24 L326.50 271.37 L327.00 272.33 L327.50 272.54 L328.00 273.41 L328.50 273.23 L329.00 273.97 L329.50 274.17 L330.00 274.54 L330.50 275.49 L331.00 275.56 L331.50 275.87 L332.00 276.45 L332.50 276.51 L333.00 276.97 L333.50 277.29 L334.00 278.20 L334.50 278.22 L335.00 278.63 L335.50 279.08 L336.00 279.16 L336.50 279.51 L337.00 279.54 L337.50 280.29 L338.00 280.56 L338.50 280.74 L339.00 281.37 L339.50 281.08 L340.00 281.82 L340.50 281.76 L341.00 282.10 L341.50 282.57 L342.00 283.15 L342.50 282.95 L343.00 283.27 L343.50 283.52 L344.00 284.41 L344.50 284.42 L345.00 284.68 L345.50 285.27 L346.00 285.23 L346.50 285.09 L347.00 285.68 L347.50 285.85 L348.00 286.74 L348.50 286.43 L349.00 287.05 L349.50 287.23 L350.00 287.58 L350.50 288.00 L351.00 288.32 L351.50 288.57 L352.00 288.82 L352.50 289.27 L353.00 289.54 L353.50 289.90 L354.00 290.40 L354.50 290.67 L355.00 291.08 L355.50 291.25 L356.00 291.90 L356.50 291.76 L357.00 292.01 L357.50 292.63 L358.00 292.64 L358.50 293.06 L359.00 293.48 L359.50 293.60 L360.00 293.84 L360.50 294.33 L361.00 294.50 L361.50 294.65 L362.00 294.82 L362.50 295.21 L363.00 295.29 L363.50 295.67 L364.00 295.90 L364.50 296.36 L365.00 296.67 L365.50 296.71 L366.00 296.99 L366.50 297.13 L367.00 297.32 L367.50 297.68 L368.00 298.04 L368.50 298.24 L369.00 298.47 L369.50 298.55 L370.00 298.42 L370.50 299.10 L371.00 299.33 L371.50 299.45 L372.00 299.62 L372.50 299.81 L373.00 300.18 L373.50 300.04 L374.00 300.35 L374.50 300.41 L375.00 300.55 L375.50 300.60 L376.00 300.72 L376.50 300.77 L377.00 301.12 L377.50 301.15 L378.00 301.17 L378.50 301.36 L379.00 301.44 L379.50 301.92 L380.00 301.82 L380.50 301.99 L381.00 301.94 L381.50 302.09 L382.00 302.47 L382.50 302.43 L383.00 302.60 L383.50 302.92 L384.00 303.06 L384.50 303.00 L385.00 303.08 L385.50 303.16 L386.00 303.20 L386.50 303.60 L387.00 303.30 L387.50 303.55 L388.00 303.42 L388.50 303.61 L389.00 303.92 L389.50 304.02 L390.00 304.11 L390.50 304.12 L391.00 304.17 L391.50 304.29 L392.00 304.40 L392.50 304.68 L393.00 304.81 L393.50 304.78 L394.00 304.75 L394.50 304.78 L395.00 305.03 L395.50 305.05 L396.00 304.93 L396.50 305.41 L397.00 305.33 L397.50 305.37 L398.00 305.38 L398.50 305.46 L399.00 305.76 L399.50 305.61 L400.00 305.82 L400.50 305.96 L401.00 306.19 L401.50 306.11 L402.00 306.11 L402.50 306.13 L403.00 306.36 L403.50 306.45 L404.00 306.35 L404.50 306.54 L405.00 306.52 L405.50 306.41 L406.00 306.56 L406.50 306.85 L407.00 307.00 L407.50 306.97 L408.00 306.93 L408.50 306.93 L409.00 307.16 L409.50 307.20 L410.00 307.02 L410.50 307.37 L411.00 307.26 L411.50 307.49 L412.00 307.54 L412.50 307.63 L413.00 307.73 L413.50 307.74 L414.00 307.58 L414.50 307.65 L415.00 307.96 L415.50 307.95 L416.00 307.75 L416.50 307.75 L417.00 308.16 L417.50 308.38 L418.00 308.26 L418.50 308.18 L419.00 308.29 L419.50 307.97 L420.00 308.23 L420.50 308.53 L421.00 308.55 L421.50 308.23 L422.00 308.68 L422.50 308.65 L423.00 308.74 L423.50 308.64 L424.00 308.71 L424.50 308.62 L425.00 308.84 L425.50 308.95 L426.00 308.76 L426.50 308.97 L427.00 308.89 L427.50 309.13 L428.00 309.16 L428.50 308.78 L429.00 309.17 L429.50 309.28 L430.00 309.12 L430.50 309.20 L431.00 309.24 L431.50 309.15 L432.00 309.31 L432.50 309.55 L433.00 309.45 L433.50 309.61 L434.00 309.57 L434.50 309.63 L435.00 309.52 L435.50 309.63 L436.00 309.81 L436.50 309.77 L437.00 309.65 L437.50 309.55 L438.00 309.54 L438.50 309.71 L439.00 309.76 L439.50 309.49 L440.00 309.77 L440.50 309.81 L441.00 309.82 L441.50 309.73 L442.00 310.11 L442.50 309.95 L443.00 309.69 L443.50 309.79 L444.00 309.99 L444.50 309.97 L445.00 309.94 L445.50 309.94 L446.00 309.93 L446.50 309.92 L447.00 309.86 L447.50 310.08 L448.00 309.68 L448.50 309.95 L449.00 310.21 L449.50 309.97 L450.00 309.93 L450.50 310.33 L451.00 310.24 L451.50 310.11 L452.00 310.07 L452.50 310.13 L453.00 310.13 L453.50 310.16 L454.00 310.11 L454.50 310.28 L455.00 310.16 L455.50 310.02 L456.00 310.10 L456.50 310.28 L457.00 310.17 L457.50 310.00 L458.00 310.51 L458.50 310.40 L459.00 310.30 L459.50 310.31 L460.00 310.46 L460.50 310.58 L461.00 310.35 L461.50 310.50 L462.00 310.38 L462.50 310.52 L463.00 310.36 L463.50 310.29 L464.00 310.54 L464.50 310.54 L465.00 310.66 L465.50 310.50 L466.00 310.77 L466.50 310.63 L467.00 310.83 L467.50 310.61 L468.00 310.86 L468.50 310.68 L469.00 310.73 L469.50 310.85 L470.00 310.53 L470.50 310.63 L471.00 311.01 L471.50 310.61 L472.00 310.76 L472.50 310.90 L473.00 311.04 L473.50 310.81 L474.00 310.91 L474.50 310.77 L475.00 310.88 L475.50 311.07 L476.00 311.00 L476.50 310.98 L477.00 311.05 L477.50 311.03 L478.00 311.06 L478.50 311.01 L479.00 310.95 L479.50 311.17 L480.00 310.97 L480.50 311.25 L481.00 311.41 L481.50 311.35 L482.00 311.47 L482.50 311.07 L483.00 311.25 L483.50 311.14 L484.00 311.17 L484.50 311.06 L485.00 311.14 L485.50 311.42 L486.00 311.42 L486.50 311.50 L487.00 311.51 L487.50 311.49 L488.00 311.31 L488.50 311.41 L489.00 311.54 L489.50 311.62 L490.00 311.44 L490.50 311.44 L491.00 311.47 L491.50 311.74 L492.00 311.63 L492.50 311.54 L493.00 311.50 L493.50 311.67 L494.00 311.43 L494.50 311.62 L495.00 311.60 L495.50 311.62 L496.00 311.73 L496.50 311.78 L497.00 312.12 L497.50 311.78 L498.00 311.87 L498.50 311.71 L499.00 311.62 L499.50 311.98 L500.00 312.10 L500.50 311.76 L501.00 311.89 L501.50 312.06 L502.00 311.95 L502.50 311.66 L503.00 312.10 L503.50 311.98 L504.00 312.10 L504.50 311.91 L505.00 312.16 L505.50 312.20 L506.00 312.00 L506.50 312.17 L507.00 312.05 L507.50 312.09 L508.00 312.06 L508.50 312.13 L509.00 312.12 L509.50 312.37 L510.00 312.22 L510.50 312.12 L511.00 312.45 L511.50 312.37 L512.00 312.44 L512.50 312.33 L513.00 312.45 L513.50 312.37 L514.00 312.28 L514.50 312.43 L515.00 312.45 L515.50 312.47 L516.00 312.58 L516.50 312.28 L517.00 312.55 L517.50 312.44 L518.00 312.52 L518.50 312.63 L519.00 312.60 L519.50 312.53 L520.00 312.73 L520.50 312.65 L521.00 312.79 L521.50 312.84 L522.00 312.67 L522.50 312.60 L523.00 312.76 L523.50 312.87 L524.00 312.83 L524.50 312.67 L525.00 312.62 L525.50 312.73 L526.00 312.75 L526.50 312.97 L527.00 312.92 L527.50 313.04 L528.00 312.94 L528.50 313.17 L529.00 312.99 L529.50 313.08 L530.00 312.98 L530.50 313.10 L531.00 313.20 L531.50 313.18 L532.00 313.26 L532.50 313.05 L533.00 313.20 L533.50 313.38 L534.00 313.22 L534.50 313.19 L535.00 313.20 L535.50 313.18 L536.00 313.29 L536.50 313.46 L537.00 313.36 L537.50 313.32 L538.00 313.25 L538.50 313.23 L539.00 313.68 L539.50 313.35 L540.00 313.44 L540.50 313.39 L541.00 313.49 L541.50 313.44 L542.00 313.52" stroke="#28a463" stroke-width="3.3"/>
<line x1="82.5" y1="303" x2="82.5" y2="68.4" stroke="#28a463" stroke-width="2.7"/>
</g>
<!-- main axes -->
<rect x="36.6" y="6.0" width="506.20" height="315.80" fill="none" stroke="#252525" stroke-width="1.7"/>
<g stroke="#252525" stroke-width="1.5">
<line x1="56.00" y1="321.80" x2="56.00" y2="327.60"/>
<line x1="85.00" y1="321.80" x2="85.00" y2="324.80"/>
<line x1="114.00" y1="321.80" x2="114.00" y2="327.60"/>
<line x1="143.00" y1="321.80" x2="143.00" y2="324.80"/>
<line x1="172.00" y1="321.80" x2="172.00" y2="327.60"/>
<line x1="201.00" y1="321.80" x2="201.00" y2="324.80"/>
<line x1="230.00" y1="321.80" x2="230.00" y2="327.60"/>
<line x1="259.00" y1="321.80" x2="259.00" y2="324.80"/>
<line x1="288.00" y1="321.80" x2="288.00" y2="327.60"/>
<line x1="317.00" y1="321.80" x2="317.00" y2="324.80"/>
<line x1="346.00" y1="321.80" x2="346.00" y2="327.60"/>
<line x1="375.00" y1="321.80" x2="375.00" y2="324.80"/>
<line x1="404.00" y1="321.80" x2="404.00" y2="327.60"/>
<line x1="433.00" y1="321.80" x2="433.00" y2="324.80"/>
<line x1="462.00" y1="321.80" x2="462.00" y2="327.60"/>
<line x1="491.00" y1="321.80" x2="491.00" y2="324.80"/>
<line x1="520.00" y1="321.80" x2="520.00" y2="327.60"/>
</g>
<g font-size="18.6">
<text x="56.50" y="347.0" text-anchor="middle" textLength="28.6" lengthAdjust="spacingAndGlyphs">550</text>
<text x="114.50" y="347.0" text-anchor="middle" textLength="28.6" lengthAdjust="spacingAndGlyphs">600</text>
<text x="172.50" y="347.0" text-anchor="middle" textLength="28.6" lengthAdjust="spacingAndGlyphs">650</text>
<text x="230.50" y="347.0" text-anchor="middle" textLength="28.6" lengthAdjust="spacingAndGlyphs">700</text>
<text x="288.50" y="347.0" text-anchor="middle" textLength="28.6" lengthAdjust="spacingAndGlyphs">750</text>
<text x="346.50" y="347.0" text-anchor="middle" textLength="28.6" lengthAdjust="spacingAndGlyphs">800</text>
<text x="404.50" y="347.0" text-anchor="middle" textLength="28.6" lengthAdjust="spacingAndGlyphs">850</text>
<text x="462.50" y="347.0" text-anchor="middle" textLength="28.6" lengthAdjust="spacingAndGlyphs">900</text>
<text x="520.50" y="347.0" text-anchor="middle" textLength="28.6" lengthAdjust="spacingAndGlyphs">950</text>
</g>
<text x="203.8" y="374.0" font-size="21" textLength="154.2" lengthAdjust="spacingAndGlyphs">Wavelength <tspan font-weight="normal" stroke-width="0.6">(</tspan>nm<tspan font-weight="normal" stroke-width="0.6">)</tspan></text>
<text transform="translate(24.3,148.2) rotate(-90)" font-size="21" text-anchor="middle" textLength="161" lengthAdjust="spacingAndGlyphs">Intensity<tspan font-weight="normal" stroke-width="0.6">(</tspan>Counts<tspan font-weight="normal" stroke-width="0.6">)</tspan></text>
<text x="39" y="21.7" font-size="20.6" textLength="84.5" lengthAdjust="spacingAndGlyphs">diamond</text>
<text x="61.6" y="49" font-size="20.6" textLength="45.4" lengthAdjust="spacingAndGlyphs">peak</text>
<!-- NV labels -->
<text x="40.6" y="259.5" font-size="19.7">NV</text>
<text x="67.4" y="251.6" font-size="12.5">0</text>
<text x="110" y="207.8" font-size="19.7">NV</text>
<line x1="137.6" y1="197" x2="143.4" y2="197" stroke="#111" stroke-width="1"/>
<!-- arrows -->
<g stroke="#000" fill="#000">
<line x1="57.40" y1="262.50" x2="75.88" y2="283.95" stroke-width="1.40"/><polygon stroke="none" points="79.80,288.50 76.95,281.06 72.86,284.58"/>
<line x1="125.30" y1="215.10" x2="148.90" y2="237.02" stroke-width="1.40"/><polygon stroke="none" points="153.30,241.10 149.64,234.02 145.97,237.98"/>
</g>
<!-- main legend -->
<g>
<line x1="447.80" y1="195.40" x2="496.80" y2="195.40" stroke="#000" stroke-width="2.60"/>
<text x="501.30" y="203.20" font-size="20.00">S<tspan font-size="14.04" dy="5.60" font-weight="bold">0</tspan></text>
<line x1="447.80" y1="225.80" x2="496.80" y2="225.80" stroke="#e8303a" stroke-width="2.60"/>
<text x="501.30" y="233.60" font-size="20.00">S<tspan font-size="13.00" dy="5.60" font-weight="normal" stroke-width="0.5">11</tspan></text>
<line x1="447.80" y1="256.40" x2="496.80" y2="256.40" stroke="#1860d2" stroke-width="2.60"/>
<text x="501.30" y="264.20" font-size="20.00">S<tspan font-size="13.00" dy="5.60" font-weight="normal" stroke-width="0.5">12</tspan></text>
<line x1="447.80" y1="286.90" x2="496.80" y2="286.90" stroke="#28a463" stroke-width="2.60"/>
<text x="501.30" y="294.70" font-size="20.00">S<tspan font-size="13.00" dy="5.60" font-weight="normal" stroke-width="0.5">13</tspan></text>
</g>

<!-- inset 1 -->
<rect x="183.3" y="9.7" width="162.60" height="131.30" fill="#fff" stroke="#252525" stroke-width="1.4"/>
<g fill="none" stroke-width="1.1" stroke-linejoin="round">
<path d="M183.80 135.00 L184.00 135.00 L184.20 135.00 L184.40 135.00 L184.60 135.00 L184.80 135.00 L185.00 135.00 L185.20 135.00 L185.40 135.00 L185.60 135.00 L185.80 135.00 L186.00 135.00 L186.20 135.00 L186.40 135.00 L186.60 135.00 L186.80 135.00 L187.00 135.00 L187.20 135.00 L187.40 135.00 L187.60 135.00 L187.80 135.00 L188.00 135.00 L188.20 135.00 L188.40 135.00 L188.60 135.00 L188.80 135.00 L189.00 135.00 L189.20 135.00 L189.40 135.00 L189.60 135.00 L189.80 135.00 L190.00 135.00 L190.20 135.00 L190.40 135.00 L190.60 135.00 L190.80 135.00 L191.00 135.00 L191.20 135.00 L191.40 135.00 L191.60 135.00 L191.80 135.00 L192.00 135.00 L192.20 135.00 L192.40 135.00 L192.60 135.00 L192.80 135.00 L193.00 135.00 L193.20 135.00 L193.40 135.00 L193.60 135.00 L193.80 135.00 L194.00 135.00 L194.20 135.00 L194.40 135.00 L194.60 135.00 L194.80 135.00 L195.00 135.00 L195.20 135.00 L195.40 135.00 L195.60 135.00 L195.80 135.00 L196.00 135.00 L196.20 135.00 L196.40 135.00 L196.60 135.00 L196.80 135.00 L197.00 135.00 L197.20 135.00 L197.40 135.00 L197.60 135.00 L197.80 135.00 L198.00 135.00 L198.20 135.00 L198.40 135.00 L198.60 135.00 L198.80 135.00 L199.00 135.00 L199.20 135.00 L199.40 135.00 L199.60 135.00 L199.80 135.00 L200.00 135.00 L200.20 135.00 L200.40 135.00 L200.60 135.00 L200.80 135.00 L201.00 135.00 L201.20 135.00 L201.40 135.00 L201.60 135.00 L201.80 135.00 L202.00 135.00 L202.20 135.00 L202.40 135.00 L202.60 135.00 L202.80 135.00 L203.00 135.00 L203.20 135.00 L203.40 135.00 L203.60 135.00 L203.80 135.00 L204.00 135.00 L204.20 135.00 L204.40 135.00 L204.60 135.00 L204.80 135.00 L205.00 135.00 L205.20 135.00 L205.40 135.00 L205.60 135.00 L205.80 135.00 L206.00 135.00 L206.20 134.99 L206.40 134.99 L206.60 134.99 L206.80 134.99 L207.00 134.99 L207.20 134.99 L207.40 134.99 L207.60 134.99 L207.80 134.99 L208.00 134.99 L208.20 134.99 L208.40 134.99 L208.60 134.99 L208.80 134.99 L209.00 134.99 L209.20 134.99 L209.40 134.99 L209.60 134.99 L209.80 134.99 L210.00 134.99 L210.20 134.99 L210.40 134.99 L210.60 134.99 L210.80 134.99 L211.00 134.99 L211.20 134.99 L211.40 134.99 L211.60 134.98 L211.80 134.98 L212.00 134.98 L212.20 134.98 L212.40 134.98 L212.60 134.98 L212.80 134.98 L213.00 134.98 L213.20 134.98 L213.40 134.98 L213.60 134.98 L213.80 134.97 L214.00 134.97 L214.20 134.97 L214.40 134.97 L214.60 134.97 L214.80 134.97 L215.00 134.96 L215.20 134.96 L215.40 134.96 L215.60 134.96 L215.80 134.95 L216.00 134.95 L216.20 134.95 L216.40 134.95 L216.60 134.94 L216.80 134.94 L217.00 134.93 L217.20 134.93 L217.40 134.92 L217.60 134.92 L217.80 134.91 L218.00 134.91 L218.20 134.90 L218.40 134.89 L218.60 134.88 L218.80 134.87 L219.00 134.86 L219.20 134.85 L219.40 134.84 L219.60 134.83 L219.80 134.81 L220.00 134.80 L220.20 134.78 L220.40 134.76 L220.60 134.73 L220.80 134.71 L221.00 134.68 L221.20 134.65 L221.40 134.61 L221.60 134.57 L221.80 134.53 L222.00 134.47 L222.20 134.41 L222.40 134.35 L222.60 134.27 L222.80 134.18 L223.00 134.08 L223.20 133.96 L223.40 133.82 L223.60 133.66 L223.80 133.48 L224.00 133.26 L224.20 133.00 L224.40 132.71 L224.60 132.35 L224.80 131.93 L225.00 131.44 L225.20 130.85 L225.40 130.15 L225.60 129.32 L225.80 128.33 L226.00 127.15 L226.20 125.75 L226.40 124.11 L226.60 122.18 L226.80 119.95 L227.00 117.42 L227.20 114.59 L227.40 111.53 L227.60 108.34 L227.80 105.18 L228.00 102.26 L228.20 99.81 L228.40 98.08 L228.60 97.25 L228.80 97.43 L229.00 98.58 L229.20 100.59 L229.40 103.23 L229.60 106.26 L229.80 109.45 L230.00 112.61 L230.20 115.60 L230.40 118.33 L230.60 120.76 L230.80 122.88 L231.00 124.71 L231.20 126.26 L231.40 127.58 L231.60 128.69 L231.80 129.62 L232.00 130.41 L232.20 131.07 L232.40 131.62 L232.60 132.09 L232.80 132.48 L233.00 132.81 L233.20 133.10 L233.40 133.34 L233.60 133.54 L233.80 133.72 L234.00 133.87 L234.20 134.00 L234.40 134.11 L234.60 134.21 L234.80 134.30 L235.00 134.37 L235.20 134.43 L235.40 134.49 L235.60 134.54 L235.80 134.59 L236.00 134.63 L236.20 134.66 L236.40 134.69 L236.60 134.72 L236.80 134.74 L237.00 134.76 L237.20 134.78 L237.40 134.80 L237.60 134.82 L237.80 134.83 L238.00 134.85 L238.20 134.86 L238.40 134.87 L238.60 134.88 L238.80 134.89 L239.00 134.89 L239.20 134.90 L239.40 134.91 L239.60 134.92 L239.80 134.92 L240.00 134.93 L240.20 134.93 L240.40 134.94 L240.60 134.94 L240.80 134.94 L241.00 134.95 L241.20 134.95 L241.40 134.95 L241.60 134.96 L241.80 134.96 L242.00 134.96 L242.20 134.96 L242.40 134.96 L242.60 134.97 L242.80 134.97 L243.00 134.97 L243.20 134.97 L243.40 134.97 L243.60 134.97 L243.80 134.98 L244.00 134.98 L244.20 134.98 L244.40 134.98 L244.60 134.98 L244.80 134.98 L245.00 134.98 L245.20 134.98 L245.40 134.98 L245.60 134.98 L245.80 134.99 L246.00 134.99 L246.20 134.99 L246.40 134.99 L246.60 134.99 L246.80 134.99 L247.00 134.99 L247.20 134.99 L247.40 134.99 L247.60 134.99 L247.80 134.99 L248.00 134.99 L248.20 134.99 L248.40 134.99 L248.60 134.99 L248.80 134.99 L249.00 134.99 L249.20 134.99 L249.40 134.99 L249.60 134.99 L249.80 134.99 L250.00 134.99 L250.20 134.99 L250.40 134.99 L250.60 134.99 L250.80 134.99 L251.00 134.99 L251.20 134.99 L251.40 135.00 L251.60 135.00 L251.80 135.00 L252.00 135.00 L252.20 135.00 L252.40 135.00 L252.60 135.00 L252.80 135.00 L253.00 135.00 L253.20 135.00 L253.40 135.00 L253.60 135.00 L253.80 135.00 L254.00 135.00 L254.20 135.00 L254.40 135.00 L254.60 135.00 L254.80 135.00 L255.00 135.00 L255.20 135.00 L255.40 135.00 L255.60 135.00 L255.80 135.00 L256.00 135.00 L256.20 135.00 L256.40 135.00 L256.60 135.00 L256.80 135.00 L257.00 135.00 L257.20 135.00 L257.40 135.00 L257.60 135.00 L257.80 135.00 L258.00 135.00 L258.20 135.00 L258.40 135.00 L258.60 135.00 L258.80 135.00 L259.00 135.00 L259.20 135.00 L259.40 135.00 L259.60 135.00 L259.80 135.00 L260.00 135.00 L260.20 135.00 L260.40 135.00 L260.60 135.00 L260.80 135.00 L261.00 135.00 L261.20 135.00 L261.40 135.00 L261.60 135.00 L261.80 135.00 L262.00 135.00 L262.20 135.00 L262.40 135.00 L262.60 135.00 L262.80 135.00 L263.00 135.00 L263.20 135.00 L263.40 135.00 L263.60 135.00 L263.80 135.00 L264.00 135.00 L264.20 135.00 L264.40 135.00 L264.60 135.00 L264.80 135.00 L265.00 135.00 L265.20 135.00 L265.40 135.00 L265.60 135.00 L265.80 135.00 L266.00 135.00 L266.20 135.00 L266.40 135.00 L266.60 135.00 L266.80 135.00 L267.00 135.00 L267.20 135.00 L267.40 135.00 L267.60 135.00 L267.80 135.00 L268.00 135.00 L268.20 135.00 L268.40 135.00 L268.60 135.00 L268.80 135.00 L269.00 135.00 L269.20 135.00 L269.40 135.00 L269.60 135.00 L269.80 135.00 L270.00 135.00 L270.20 135.00 L270.40 135.00 L270.60 135.00 L270.80 135.00 L271.00 135.00 L271.20 135.00 L271.40 135.00 L271.60 135.00 L271.80 135.00 L272.00 135.00 L272.20 135.00 L272.40 135.00 L272.60 135.00 L272.80 135.00 L273.00 135.00 L273.20 135.00 L273.40 135.00 L273.60 135.00 L273.80 135.00 L274.00 135.00 L274.20 135.00 L274.40 135.00 L274.60 135.00 L274.80 135.00 L275.00 135.00 L275.20 135.00 L275.40 135.00 L275.60 135.00 L275.80 135.00 L276.00 135.00 L276.20 135.00 L276.40 135.00 L276.60 135.00 L276.80 135.00 L277.00 135.00 L277.20 135.00 L277.40 135.00 L277.60 135.00 L277.80 135.00 L278.00 135.00 L278.20 135.00 L278.40 135.00 L278.60 135.00 L278.80 135.00 L279.00 135.00 L279.20 135.00 L279.40 135.00 L279.60 135.00 L279.80 135.00 L280.00 135.00 L280.20 135.00 L280.40 135.00 L280.60 135.00 L280.80 135.00 L281.00 135.00 L281.20 135.00 L281.40 135.00 L281.60 135.00 L281.80 135.00 L282.00 135.00 L282.20 135.00 L282.40 135.00 L282.60 135.00 L282.80 135.00 L283.00 135.00 L283.20 135.00 L283.40 135.00 L283.60 135.00 L283.80 135.00 L284.00 135.00 L284.20 135.00 L284.40 135.00 L284.60 135.00 L284.80 135.00 L285.00 135.00 L285.20 135.00 L285.40 135.00 L285.60 135.00 L285.80 135.00 L286.00 135.00 L286.20 135.00 L286.40 135.00 L286.60 135.00 L286.80 135.00 L287.00 135.00 L287.20 135.00 L287.40 135.00 L287.60 135.00 L287.80 135.00 L288.00 135.00 L288.20 135.00 L288.40 135.00 L288.60 135.00 L288.80 135.00 L289.00 135.00 L289.20 135.00 L289.40 135.00 L289.60 135.00 L289.80 135.00 L290.00 135.00 L290.20 135.00 L290.40 135.00 L290.60 135.00 L290.80 135.00 L291.00 135.00 L291.20 135.00 L291.40 135.00 L291.60 135.00 L291.80 135.00 L292.00 135.00 L292.20 135.00 L292.40 135.00 L292.60 135.00 L292.80 135.00 L293.00 135.00 L293.20 135.00 L293.40 135.00 L293.60 135.00 L293.80 135.00 L294.00 135.00 L294.20 135.00 L294.40 135.00 L294.60 135.00 L294.80 135.00 L295.00 135.00 L295.20 135.00 L295.40 135.00 L295.60 135.00 L295.80 135.00 L296.00 135.00 L296.20 135.00 L296.40 135.00 L296.60 135.00 L296.80 135.00 L297.00 135.00 L297.20 135.00 L297.40 135.00 L297.60 135.00 L297.80 135.00 L298.00 135.00 L298.20 135.00 L298.40 135.00 L298.60 135.00 L298.80 135.00 L299.00 135.00 L299.20 135.00 L299.40 135.00 L299.60 135.00 L299.80 135.00 L300.00 135.00 L300.20 135.00 L300.40 135.00 L300.60 135.00 L300.80 135.00 L301.00 135.00 L301.20 135.00 L301.40 135.00 L301.60 135.00 L301.80 135.00 L302.00 135.00 L302.20 135.00 L302.40 135.00 L302.60 135.00 L302.80 135.00 L303.00 135.00 L303.20 135.00 L303.40 135.00 L303.60 135.00 L303.80 135.00 L304.00 135.00 L304.20 135.00 L304.40 135.00 L304.60 135.00 L304.80 135.00 L305.00 135.00 L305.20 135.00 L305.40 135.00 L305.60 135.00 L305.80 135.00 L306.00 135.00 L306.20 135.00 L306.40 135.00 L306.60 135.00 L306.80 135.00 L307.00 135.00 L307.20 135.00 L307.40 135.00 L307.60 135.00 L307.80 135.00 L308.00 135.00 L308.20 135.00 L308.40 135.00 L308.60 135.00 L308.80 135.00 L309.00 135.00 L309.20 135.00 L309.40 135.00 L309.60 135.00 L309.80 135.00 L310.00 135.00 L310.20 135.00 L310.40 135.00 L310.60 135.00 L310.80 135.00 L311.00 135.00 L311.20 135.00 L311.40 135.00 L311.60 135.00 L311.80 135.00 L312.00 135.00 L312.20 135.00 L312.40 135.00 L312.60 135.00 L312.80 135.00 L313.00 135.00 L313.20 135.00 L313.40 135.00 L313.60 135.00 L313.80 135.00 L314.00 135.00 L314.20 135.00 L314.40 135.00 L314.60 135.00 L314.80 135.00 L315.00 135.00 L315.20 135.00 L315.40 135.00 L315.60 135.00 L315.80 135.00 L316.00 135.00 L316.20 135.00 L316.40 135.00 L316.60 135.00 L316.80 135.00 L317.00 135.00 L317.20 135.00 L317.40 135.00 L317.60 135.00 L317.80 135.00 L318.00 135.00 L318.20 135.00 L318.40 135.00 L318.60 135.00 L318.80 135.00 L319.00 135.00 L319.20 135.00 L319.40 135.00 L319.60 135.00 L319.80 135.00 L320.00 135.00 L320.20 135.00 L320.40 135.00 L320.60 135.00 L320.80 135.00 L321.00 135.00 L321.20 135.00 L321.40 135.00 L321.60 135.00 L321.80 135.00 L322.00 135.00 L322.20 135.00 L322.40 135.00 L322.60 135.00 L322.80 135.00 L323.00 135.00 L323.20 135.00 L323.40 135.00 L323.60 135.00 L323.80 135.00 L324.00 135.00 L324.20 135.00 L324.40 135.00 L324.60 135.00 L324.80 135.00 L325.00 135.00 L325.20 135.00 L325.40 135.00 L325.60 135.00 L325.80 135.00 L326.00 135.00 L326.20 135.00 L326.40 135.00 L326.60 135.00 L326.80 135.00 L327.00 135.00 L327.20 135.00 L327.40 135.00 L327.60 135.00 L327.80 135.00 L328.00 135.00 L328.20 135.00 L328.40 135.00 L328.60 135.00 L328.80 135.00 L329.00 135.00 L329.20 135.00 L329.40 135.00 L329.60 135.00 L329.80 135.00 L330.00 135.00 L330.20 135.00 L330.40 135.00 L330.60 135.00 L330.80 135.00 L331.00 135.00 L331.20 135.00 L331.40 135.00 L331.60 135.00 L331.80 135.00 L332.00 135.00 L332.20 135.00 L332.40 135.00 L332.60 135.00 L332.80 135.00 L333.00 135.00 L333.20 135.00 L333.40 135.00 L333.60 135.00 L333.80 135.00 L334.00 135.00 L334.20 135.00 L334.40 135.00 L334.60 135.00 L334.80 135.00 L335.00 135.00 L335.20 135.00 L335.40 135.00 L335.60 135.00 L335.80 135.00 L336.00 135.00 L336.20 135.00 L336.40 135.00 L336.60 135.00 L336.80 135.00 L337.00 135.00 L337.20 135.00 L337.40 135.00 L337.60 135.00 L337.80 135.00 L338.00 135.00 L338.20 135.00 L338.40 135.00 L338.60 135.00 L338.80 135.00 L339.00 135.00 L339.20 135.00 L339.40 135.00 L339.60 135.00 L339.80 135.00 L340.00 135.00 L340.20 135.00 L340.40 135.00 L340.60 135.00 L340.80 135.00 L341.00 135.00 L341.20 135.00 L341.40 135.00 L341.60 135.00 L341.80 135.00 L342.00 135.00 L342.20 135.00 L342.40 135.00 L342.60 135.00 L342.80 135.00 L343.00 135.00 L343.20 135.00 L343.40 135.00 L343.60 135.00 L343.80 135.00 L344.00 135.00 L344.20 135.00 L344.40 135.00 L344.60 135.00 L344.80 135.00 L345.00 135.00 L345.20 135.00" stroke="#111" stroke-width="1.3"/>
<path d="M183.80 133.52 L184.00 133.34 L184.20 133.44 L184.40 133.39 L184.60 133.45 L184.80 133.33 L185.00 133.42 L185.20 133.30 L185.40 133.23 L185.60 133.27 L185.80 133.30 L186.00 133.28 L186.20 133.34 L186.40 133.46 L186.60 133.27 L186.80 133.40 L187.00 133.37 L187.20 133.30 L187.40 133.28 L187.60 133.39 L187.80 133.39 L188.00 133.32 L188.20 133.33 L188.40 133.34 L188.60 133.23 L188.80 133.35 L189.00 133.36 L189.20 133.48 L189.40 133.23 L189.60 133.26 L189.80 133.33 L190.00 133.28 L190.20 133.29 L190.40 133.32 L190.60 133.29 L190.80 133.31 L191.00 133.35 L191.20 133.18 L191.40 133.35 L191.60 133.13 L191.80 133.44 L192.00 133.38 L192.20 133.25 L192.40 133.38 L192.60 133.28 L192.80 133.33 L193.00 133.35 L193.20 133.32 L193.40 133.29 L193.60 133.33 L193.80 133.27 L194.00 133.25 L194.20 133.20 L194.40 133.13 L194.60 133.40 L194.80 133.33 L195.00 133.16 L195.20 133.30 L195.40 133.28 L195.60 133.09 L195.80 133.19 L196.00 133.25 L196.20 133.39 L196.40 133.34 L196.60 133.35 L196.80 133.27 L197.00 133.33 L197.20 133.15 L197.40 133.29 L197.60 133.30 L197.80 133.14 L198.00 133.26 L198.20 133.36 L198.40 133.39 L198.60 133.34 L198.80 133.17 L199.00 133.22 L199.20 133.18 L199.40 133.32 L199.60 133.15 L199.80 133.13 L200.00 133.08 L200.20 133.23 L200.40 133.24 L200.60 133.16 L200.80 133.14 L201.00 133.19 L201.20 133.31 L201.40 133.09 L201.60 133.19 L201.80 133.21 L202.00 133.22 L202.20 133.29 L202.40 133.25 L202.60 133.20 L202.80 133.30 L203.00 133.27 L203.20 133.20 L203.40 133.19 L203.60 133.08 L203.80 133.18 L204.00 133.10 L204.20 133.07 L204.40 133.14 L204.60 133.02 L204.80 133.08 L205.00 133.11 L205.20 133.18 L205.40 133.12 L205.60 133.18 L205.80 133.27 L206.00 133.20 L206.20 133.04 L206.40 132.99 L206.60 133.06 L206.80 133.05 L207.00 132.96 L207.20 132.98 L207.40 132.98 L207.60 133.06 L207.80 133.22 L208.00 133.24 L208.20 133.02 L208.40 133.06 L208.60 132.99 L208.80 132.96 L209.00 133.08 L209.20 133.09 L209.40 133.03 L209.60 133.13 L209.80 133.05 L210.00 133.16 L210.20 133.03 L210.40 133.13 L210.60 133.04 L210.80 133.06 L211.00 133.10 L211.20 132.94 L211.40 132.98 L211.60 133.03 L211.80 133.01 L212.00 133.05 L212.20 132.96 L212.40 132.92 L212.60 133.01 L212.80 133.04 L213.00 132.94 L213.20 133.10 L213.40 133.05 L213.60 133.06 L213.80 133.05 L214.00 132.92 L214.20 133.15 L214.40 132.92 L214.60 133.00 L214.80 133.02 L215.00 132.98 L215.20 132.97 L215.40 132.88 L215.60 132.90 L215.80 132.93 L216.00 133.03 L216.20 132.86 L216.40 132.96 L216.60 132.93 L216.80 132.89 L217.00 132.83 L217.20 132.85 L217.40 132.71 L217.60 132.85 L217.80 132.85 L218.00 132.77 L218.20 132.84 L218.40 132.80 L218.60 132.70 L218.80 132.81 L219.00 132.68 L219.20 132.89 L219.40 132.59 L219.60 132.58 L219.80 132.56 L220.00 132.60 L220.20 132.63 L220.40 132.51 L220.60 132.43 L220.80 132.56 L221.00 132.44 L221.20 132.27 L221.40 132.22 L221.60 132.03 L221.80 132.08 L222.00 132.12 L222.20 131.79 L222.40 131.65 L222.60 131.64 L222.80 131.29 L223.00 131.43 L223.20 131.00 L223.40 130.84 L223.60 130.63 L223.80 130.45 L224.00 130.05 L224.20 129.48 L224.40 129.04 L224.60 128.66 L224.80 127.86 L225.00 127.28 L225.20 126.38 L225.40 125.50 L225.60 124.34 L225.80 122.62 L226.00 121.17 L226.20 119.18 L226.40 116.67 L226.60 113.85 L226.80 110.43 L227.00 106.52 L227.20 101.92 L227.40 96.58 L227.60 90.41 L227.80 83.34 L228.00 75.73 L228.20 67.90 L228.40 59.59 L228.60 52.13 L228.80 45.78 L229.00 41.05 L229.20 38.12 L229.40 37.99 L229.60 40.19 L229.80 44.80 L230.00 51.08 L230.20 58.46 L230.40 66.52 L230.60 74.47 L230.80 82.16 L231.00 89.13 L231.20 95.34 L231.40 100.97 L231.60 105.79 L231.80 109.73 L232.00 113.35 L232.20 116.18 L232.40 118.56 L232.60 120.65 L232.80 122.33 L233.00 123.74 L233.20 125.10 L233.40 126.13 L233.60 126.88 L233.80 127.64 L234.00 128.26 L234.20 128.86 L234.40 129.37 L234.60 129.59 L234.80 129.99 L235.00 130.25 L235.20 130.54 L235.40 130.83 L235.60 130.83 L235.80 130.89 L236.00 131.18 L236.20 131.19 L236.40 131.55 L236.60 131.46 L236.80 131.57 L237.00 131.68 L237.20 131.74 L237.40 131.74 L237.60 131.82 L237.80 131.94 L238.00 131.87 L238.20 132.07 L238.40 131.98 L238.60 131.79 L238.80 132.06 L239.00 131.87 L239.20 132.05 L239.40 132.21 L239.60 132.13 L239.80 131.96 L240.00 131.99 L240.20 132.06 L240.40 132.18 L240.60 132.00 L240.80 132.15 L241.00 132.08 L241.20 132.05 L241.40 132.04 L241.60 132.18 L241.80 131.92 L242.00 131.94 L242.20 132.10 L242.40 132.10 L242.60 131.90 L242.80 131.93 L243.00 131.90 L243.20 132.02 L243.40 131.92 L243.60 132.07 L243.80 132.01 L244.00 131.95 L244.20 131.94 L244.40 131.95 L244.60 131.96 L244.80 131.88 L245.00 131.89 L245.20 131.92 L245.40 131.83 L245.60 131.90 L245.80 131.80 L246.00 131.73 L246.20 131.79 L246.40 131.89 L246.60 131.86 L246.80 131.60 L247.00 131.73 L247.20 131.65 L247.40 131.65 L247.60 131.63 L247.80 131.62 L248.00 131.58 L248.20 131.58 L248.40 131.60 L248.60 131.47 L248.80 131.45 L249.00 131.44 L249.20 131.42 L249.40 131.53 L249.60 131.38 L249.80 131.44 L250.00 131.43 L250.20 131.46 L250.40 131.39 L250.60 131.45 L250.80 131.34 L251.00 131.34 L251.20 131.36 L251.40 131.16 L251.60 131.29 L251.80 131.36 L252.00 131.23 L252.20 131.17 L252.40 131.32 L252.60 131.16 L252.80 131.23 L253.00 130.92 L253.20 131.09 L253.40 131.02 L253.60 131.07 L253.80 131.11 L254.00 130.98 L254.20 130.95 L254.40 130.72 L254.60 130.99 L254.80 131.01 L255.00 130.89 L255.20 130.82 L255.40 130.86 L255.60 130.89 L255.80 130.83 L256.00 130.93 L256.20 130.69 L256.40 130.60 L256.60 130.73 L256.80 130.77 L257.00 130.60 L257.20 130.62 L257.40 130.54 L257.60 130.47 L257.80 130.49 L258.00 130.36 L258.20 130.52 L258.40 130.51 L258.60 130.52 L258.80 130.36 L259.00 130.35 L259.20 130.24 L259.40 130.24 L259.60 130.40 L259.80 130.53 L260.00 130.20 L260.20 130.23 L260.40 130.31 L260.60 130.16 L260.80 130.24 L261.00 130.14 L261.20 130.12 L261.40 130.19 L261.60 130.08 L261.80 129.97 L262.00 130.12 L262.20 130.03 L262.40 129.96 L262.60 129.92 L262.80 130.01 L263.00 129.88 L263.20 129.93 L263.40 129.98 L263.60 129.87 L263.80 129.94 L264.00 129.72 L264.20 129.86 L264.40 129.84 L264.60 129.92 L264.80 129.75 L265.00 129.80 L265.20 129.70 L265.40 129.61 L265.60 129.60 L265.80 129.60 L266.00 129.70 L266.20 129.55 L266.40 129.60 L266.60 129.65 L266.80 129.66 L267.00 129.62 L267.20 129.64 L267.40 129.42 L267.60 129.45 L267.80 129.50 L268.00 129.55 L268.20 129.48 L268.40 129.36 L268.60 129.39 L268.80 129.26 L269.00 129.44 L269.20 129.22 L269.40 129.37 L269.60 129.42 L269.80 129.39 L270.00 129.18 L270.20 129.31 L270.40 129.26 L270.60 129.25 L270.80 129.39 L271.00 129.27 L271.20 129.12 L271.40 129.14 L271.60 129.27 L271.80 129.22 L272.00 129.10 L272.20 129.05 L272.40 129.13 L272.60 129.13 L272.80 129.22 L273.00 129.10 L273.20 129.19 L273.40 129.23 L273.60 129.00 L273.80 129.07 L274.00 129.24 L274.20 129.07 L274.40 129.10 L274.60 129.17 L274.80 129.03 L275.00 129.05 L275.20 128.95 L275.40 129.12 L275.60 129.04 L275.80 129.04 L276.00 128.86 L276.20 129.15 L276.40 129.12 L276.60 129.00 L276.80 129.16 L277.00 128.87 L277.20 129.06 L277.40 128.93 L277.60 129.28 L277.80 128.86 L278.00 128.97 L278.20 129.01 L278.40 129.13 L278.60 129.14 L278.80 129.11 L279.00 129.06 L279.20 129.25 L279.40 129.03 L279.60 129.12 L279.80 129.24 L280.00 129.00 L280.20 129.04 L280.40 129.20 L280.60 129.16 L280.80 129.02 L281.00 129.14 L281.20 129.29 L281.40 129.13 L281.60 129.22 L281.80 129.17 L282.00 129.12 L282.20 129.31 L282.40 129.27 L282.60 129.30 L282.80 129.20 L283.00 129.23 L283.20 129.25 L283.40 129.28 L283.60 129.23 L283.80 129.23 L284.00 129.38 L284.20 129.20 L284.40 129.27 L284.60 129.28 L284.80 129.29 L285.00 129.24 L285.20 129.29 L285.40 129.43 L285.60 129.35 L285.80 129.34 L286.00 129.54 L286.20 129.32 L286.40 129.52 L286.60 129.48 L286.80 129.36 L287.00 129.45 L287.20 129.47 L287.40 129.62 L287.60 129.61 L287.80 129.53 L288.00 129.47 L288.20 129.45 L288.40 129.59 L288.60 129.51 L288.80 129.62 L289.00 129.64 L289.20 129.70 L289.40 129.77 L289.60 129.72 L289.80 129.76 L290.00 129.73 L290.20 129.84 L290.40 129.85 L290.60 129.93 L290.80 129.93 L291.00 129.78 L291.20 129.74 L291.40 129.92 L291.60 129.98 L291.80 129.86 L292.00 130.05 L292.20 129.96 L292.40 129.96 L292.60 130.02 L292.80 129.89 L293.00 129.89 L293.20 130.02 L293.40 129.97 L293.60 130.08 L293.80 130.10 L294.00 129.92 L294.20 130.08 L294.40 130.20 L294.60 129.99 L294.80 130.17 L295.00 130.11 L295.20 130.08 L295.40 130.35 L295.60 130.36 L295.80 130.26 L296.00 130.28 L296.20 130.45 L296.40 130.45 L296.60 130.37 L296.80 130.46 L297.00 130.42 L297.20 130.41 L297.40 130.50 L297.60 130.43 L297.80 130.54 L298.00 130.49 L298.20 130.49 L298.40 130.50 L298.60 130.60 L298.80 130.66 L299.00 130.63 L299.20 130.55 L299.40 130.69 L299.60 130.58 L299.80 130.58 L300.00 130.67 L300.20 130.77 L300.40 130.78 L300.60 130.79 L300.80 130.87 L301.00 130.85 L301.20 130.77 L301.40 130.87 L301.60 130.81 L301.80 130.88 L302.00 130.91 L302.20 130.87 L302.40 130.78 L302.60 130.90 L302.80 130.90 L303.00 130.94 L303.20 130.93 L303.40 130.89 L303.60 130.86 L303.80 131.06 L304.00 131.08 L304.20 131.07 L304.40 131.05 L304.60 131.22 L304.80 131.13 L305.00 131.10 L305.20 131.18 L305.40 131.12 L305.60 131.19 L305.80 131.17 L306.00 131.21 L306.20 131.18 L306.40 131.16 L306.60 131.24 L306.80 131.31 L307.00 131.16 L307.20 131.20 L307.40 131.17 L307.60 131.34 L307.80 131.26 L308.00 131.36 L308.20 131.24 L308.40 131.38 L308.60 131.28 L308.80 131.30 L309.00 131.39 L309.20 131.33 L309.40 131.32 L309.60 131.45 L309.80 131.38 L310.00 131.50 L310.20 131.61 L310.40 131.37 L310.60 131.40 L310.80 131.31 L311.00 131.35 L311.20 131.50 L311.40 131.49 L311.60 131.49 L311.80 131.52 L312.00 131.42 L312.20 131.36 L312.40 131.59 L312.60 131.53 L312.80 131.61 L313.00 131.52 L313.20 131.59 L313.40 131.50 L313.60 131.55 L313.80 131.54 L314.00 131.59 L314.20 131.68 L314.40 131.62 L314.60 131.35 L314.80 131.58 L315.00 131.59 L315.20 131.66 L315.40 131.61 L315.60 131.55 L315.80 131.55 L316.00 131.59 L316.20 131.57 L316.40 131.74 L316.60 131.68 L316.80 131.64 L317.00 131.72 L317.20 131.82 L317.40 131.64 L317.60 131.65 L317.80 131.64 L318.00 131.57 L318.20 131.62 L318.40 131.60 L318.60 131.71 L318.80 131.71 L319.00 131.75 L319.20 131.62 L319.40 131.77 L319.60 131.61 L319.80 131.68 L320.00 131.80 L320.20 131.80 L320.40 131.79 L320.60 131.87 L320.80 131.79 L321.00 131.69 L321.20 131.69 L321.40 131.65 L321.60 131.73 L321.80 131.66 L322.00 131.67 L322.20 131.64 L322.40 131.59 L322.60 131.92 L322.80 131.80 L323.00 131.56 L323.20 131.76 L323.40 131.69 L323.60 131.56 L323.80 131.71 L324.00 131.75 L324.20 131.78 L324.40 131.82 L324.60 131.67 L324.80 131.73 L325.00 131.79 L325.20 131.78 L325.40 131.77 L325.60 131.75 L325.80 131.84 L326.00 131.64 L326.20 131.62 L326.40 131.88 L326.60 131.77 L326.80 131.83 L327.00 131.76 L327.20 131.71 L327.40 131.70 L327.60 131.75 L327.80 131.70 L328.00 131.73 L328.20 131.73 L328.40 131.80 L328.60 131.80 L328.80 131.86 L329.00 131.68 L329.20 131.73 L329.40 131.81 L329.60 131.76 L329.80 131.54 L330.00 131.76 L330.20 131.73 L330.40 131.70 L330.60 131.70 L330.80 131.68 L331.00 131.82 L331.20 131.79 L331.40 131.75 L331.60 131.82 L331.80 131.80 L332.00 131.66 L332.20 131.64 L332.40 131.65 L332.60 131.78 L332.80 131.72 L333.00 131.82 L333.20 131.76 L333.40 131.70 L333.60 131.62 L333.80 131.70 L334.00 131.89 L334.20 131.66 L334.40 131.65 L334.60 131.70 L334.80 131.82 L335.00 131.71 L335.20 131.62 L335.40 131.66 L335.60 131.69 L335.80 131.71 L336.00 131.78 L336.20 131.90 L336.40 131.81 L336.60 131.75 L336.80 131.69 L337.00 131.63 L337.20 131.74 L337.40 131.79 L337.60 131.75 L337.80 131.68 L338.00 131.74 L338.20 131.67 L338.40 131.67 L338.60 131.66 L338.80 131.68 L339.00 131.67 L339.20 131.75 L339.40 131.67 L339.60 131.66 L339.80 131.75 L340.00 131.72 L340.20 131.75 L340.40 131.60 L340.60 131.76 L340.80 131.66 L341.00 131.57 L341.20 131.64 L341.40 131.55 L341.60 131.57 L341.80 131.61 L342.00 131.72 L342.20 131.54 L342.40 131.66 L342.60 131.62 L342.80 131.76 L343.00 131.65 L343.20 131.68 L343.40 131.74 L343.60 131.54 L343.80 131.60 L344.00 131.51 L344.20 131.55 L344.40 131.64 L344.60 131.60 L344.80 131.64 L345.00 131.58 L345.20 131.55" stroke="#e8303a"/>
<path d="M183.80 131.88 L184.00 131.82 L184.20 131.80 L184.40 131.76 L184.60 131.87 L184.80 131.91 L185.00 131.78 L185.20 131.84 L185.40 131.69 L185.60 131.77 L185.80 131.87 L186.00 131.76 L186.20 131.89 L186.40 131.82 L186.60 131.88 L186.80 131.80 L187.00 131.73 L187.20 131.84 L187.40 131.89 L187.60 131.79 L187.80 131.86 L188.00 131.77 L188.20 131.80 L188.40 131.92 L188.60 131.82 L188.80 131.74 L189.00 131.86 L189.20 131.81 L189.40 131.77 L189.60 131.86 L189.80 131.58 L190.00 131.84 L190.20 131.94 L190.40 131.82 L190.60 131.64 L190.80 131.89 L191.00 131.98 L191.20 131.83 L191.40 131.70 L191.60 131.72 L191.80 131.76 L192.00 131.79 L192.20 131.86 L192.40 131.81 L192.60 131.59 L192.80 131.74 L193.00 131.75 L193.20 131.90 L193.40 131.71 L193.60 131.64 L193.80 131.72 L194.00 131.76 L194.20 131.60 L194.40 131.82 L194.60 131.72 L194.80 131.80 L195.00 131.78 L195.20 131.77 L195.40 131.83 L195.60 131.85 L195.80 131.69 L196.00 131.71 L196.20 131.79 L196.40 131.72 L196.60 131.66 L196.80 131.71 L197.00 131.63 L197.20 131.66 L197.40 131.43 L197.60 131.70 L197.80 131.83 L198.00 131.74 L198.20 131.74 L198.40 131.69 L198.60 131.62 L198.80 131.71 L199.00 131.68 L199.20 131.66 L199.40 131.68 L199.60 131.62 L199.80 131.67 L200.00 131.71 L200.20 131.73 L200.40 131.66 L200.60 131.71 L200.80 131.66 L201.00 131.47 L201.20 131.49 L201.40 131.62 L201.60 131.55 L201.80 131.67 L202.00 131.52 L202.20 131.59 L202.40 131.58 L202.60 131.56 L202.80 131.57 L203.00 131.61 L203.20 131.61 L203.40 131.56 L203.60 131.61 L203.80 131.64 L204.00 131.58 L204.20 131.54 L204.40 131.54 L204.60 131.55 L204.80 131.54 L205.00 131.59 L205.20 131.79 L205.40 131.66 L205.60 131.57 L205.80 131.61 L206.00 131.61 L206.20 131.66 L206.40 131.67 L206.60 131.48 L206.80 131.72 L207.00 131.48 L207.20 131.55 L207.40 131.47 L207.60 131.40 L207.80 131.39 L208.00 131.68 L208.20 131.64 L208.40 131.44 L208.60 131.43 L208.80 131.63 L209.00 131.44 L209.20 131.54 L209.40 131.66 L209.60 131.56 L209.80 131.61 L210.00 131.51 L210.20 131.35 L210.40 131.42 L210.60 131.34 L210.80 131.50 L211.00 131.36 L211.20 131.47 L211.40 131.42 L211.60 131.40 L211.80 131.49 L212.00 131.40 L212.20 131.37 L212.40 131.51 L212.60 131.42 L212.80 131.30 L213.00 131.51 L213.20 131.30 L213.40 131.42 L213.60 131.44 L213.80 131.37 L214.00 131.31 L214.20 131.35 L214.40 131.34 L214.60 131.27 L214.80 131.42 L215.00 131.29 L215.20 131.27 L215.40 131.43 L215.60 131.25 L215.80 131.18 L216.00 131.29 L216.20 131.28 L216.40 131.27 L216.60 131.42 L216.80 131.20 L217.00 131.33 L217.20 131.28 L217.40 131.31 L217.60 131.17 L217.80 131.13 L218.00 131.12 L218.20 131.14 L218.40 131.17 L218.60 131.20 L218.80 130.91 L219.00 131.10 L219.20 131.01 L219.40 130.95 L219.60 130.83 L219.80 130.90 L220.00 130.68 L220.20 130.88 L220.40 130.65 L220.60 130.65 L220.80 130.58 L221.00 130.57 L221.20 130.34 L221.40 130.41 L221.60 130.28 L221.80 130.25 L222.00 130.03 L222.20 129.85 L222.40 129.54 L222.60 129.47 L222.80 129.42 L223.00 129.01 L223.20 128.73 L223.40 128.43 L223.60 128.14 L223.80 127.51 L224.00 127.29 L224.20 126.62 L224.40 125.95 L224.60 125.10 L224.80 124.32 L225.00 123.02 L225.20 121.82 L225.40 120.21 L225.60 118.27 L225.80 116.17 L226.00 113.63 L226.20 110.45 L226.40 106.76 L226.60 102.44 L226.80 97.26 L227.00 91.28 L227.20 84.52 L227.40 76.69 L227.60 68.27 L227.80 59.14 L228.00 49.82 L228.20 40.73 L228.40 32.51 L228.60 26.11 L228.80 21.86 L229.00 20.65 L229.20 22.18 L229.40 26.68 L229.60 33.14 L229.80 41.43 L230.00 50.47 L230.20 59.93 L230.40 69.01 L230.60 77.34 L230.80 85.23 L231.00 91.87 L231.20 97.58 L231.40 102.65 L231.60 106.84 L231.80 110.44 L232.00 113.62 L232.20 116.01 L232.40 118.35 L232.60 119.98 L232.80 121.59 L233.00 123.02 L233.20 123.93 L233.40 124.86 L233.60 125.73 L233.80 126.26 L234.00 126.89 L234.20 127.26 L234.40 127.70 L234.60 128.09 L234.80 128.38 L235.00 128.58 L235.20 128.89 L235.40 129.11 L235.60 129.28 L235.80 129.38 L236.00 129.43 L236.20 129.67 L236.40 129.79 L236.60 129.73 L236.80 129.70 L237.00 129.93 L237.20 130.08 L237.40 130.12 L237.60 130.00 L237.80 130.23 L238.00 130.09 L238.20 130.26 L238.40 130.18 L238.60 130.31 L238.80 130.29 L239.00 130.24 L239.20 130.33 L239.40 130.23 L239.60 130.26 L239.80 130.27 L240.00 130.23 L240.20 130.37 L240.40 130.37 L240.60 130.29 L240.80 130.21 L241.00 130.32 L241.20 130.30 L241.40 130.32 L241.60 130.27 L241.80 130.24 L242.00 130.36 L242.20 130.19 L242.40 130.22 L242.60 130.08 L242.80 130.18 L243.00 130.16 L243.20 130.16 L243.40 130.22 L243.60 130.11 L243.80 130.17 L244.00 130.10 L244.20 130.08 L244.40 129.95 L244.60 130.11 L244.80 130.11 L245.00 129.97 L245.20 129.98 L245.40 129.87 L245.60 129.96 L245.80 129.89 L246.00 129.98 L246.20 129.93 L246.40 129.96 L246.60 129.83 L246.80 129.74 L247.00 129.85 L247.20 129.79 L247.40 129.96 L247.60 129.81 L247.80 129.89 L248.00 129.79 L248.20 129.71 L248.40 129.59 L248.60 129.67 L248.80 129.71 L249.00 129.65 L249.20 129.65 L249.40 129.62 L249.60 129.47 L249.80 129.57 L250.00 129.46 L250.20 129.50 L250.40 129.59 L250.60 129.30 L250.80 129.41 L251.00 129.43 L251.20 129.47 L251.40 129.36 L251.60 129.27 L251.80 129.37 L252.00 129.33 L252.20 129.12 L252.40 129.24 L252.60 129.07 L252.80 128.97 L253.00 129.08 L253.20 129.05 L253.40 128.93 L253.60 129.22 L253.80 128.95 L254.00 129.05 L254.20 129.05 L254.40 129.14 L254.60 128.92 L254.80 129.04 L255.00 128.80 L255.20 128.86 L255.40 128.81 L255.60 128.73 L255.80 128.81 L256.00 128.91 L256.20 128.90 L256.40 128.75 L256.60 128.58 L256.80 128.58 L257.00 128.67 L257.20 128.64 L257.40 128.61 L257.60 128.51 L257.80 128.44 L258.00 128.52 L258.20 128.45 L258.40 128.54 L258.60 128.34 L258.80 128.44 L259.00 128.45 L259.20 128.47 L259.40 128.44 L259.60 128.18 L259.80 128.14 L260.00 128.22 L260.20 128.11 L260.40 127.96 L260.60 128.24 L260.80 128.14 L261.00 128.15 L261.20 128.06 L261.40 128.11 L261.60 128.01 L261.80 127.97 L262.00 128.09 L262.20 127.82 L262.40 127.93 L262.60 127.73 L262.80 127.95 L263.00 127.79 L263.20 127.69 L263.40 127.61 L263.60 127.71 L263.80 127.86 L264.00 127.72 L264.20 127.53 L264.40 127.47 L264.60 127.84 L264.80 127.54 L265.00 127.44 L265.20 127.55 L265.40 127.56 L265.60 127.62 L265.80 127.45 L266.00 127.39 L266.20 127.48 L266.40 127.34 L266.60 127.41 L266.80 127.38 L267.00 127.42 L267.20 127.26 L267.40 127.24 L267.60 127.30 L267.80 127.30 L268.00 127.12 L268.20 127.16 L268.40 127.22 L268.60 127.15 L268.80 127.35 L269.00 127.21 L269.20 127.23 L269.40 127.11 L269.60 127.10 L269.80 127.09 L270.00 127.15 L270.20 127.02 L270.40 127.16 L270.60 126.96 L270.80 127.09 L271.00 127.01 L271.20 126.95 L271.40 127.09 L271.60 127.03 L271.80 126.93 L272.00 126.87 L272.20 126.99 L272.40 126.84 L272.60 126.94 L272.80 126.82 L273.00 126.89 L273.20 126.80 L273.40 126.84 L273.60 126.99 L273.80 126.98 L274.00 126.80 L274.20 126.81 L274.40 126.69 L274.60 126.84 L274.80 126.90 L275.00 126.74 L275.20 126.73 L275.40 126.83 L275.60 126.75 L275.80 126.81 L276.00 126.91 L276.20 126.82 L276.40 126.84 L276.60 126.93 L276.80 126.80 L277.00 126.83 L277.20 126.78 L277.40 126.72 L277.60 126.91 L277.80 126.67 L278.00 126.79 L278.20 126.69 L278.40 126.72 L278.60 126.69 L278.80 126.77 L279.00 126.83 L279.20 126.90 L279.40 126.65 L279.60 126.83 L279.80 126.78 L280.00 126.77 L280.20 126.82 L280.40 126.85 L280.60 126.83 L280.80 126.85 L281.00 127.03 L281.20 126.87 L281.40 126.90 L281.60 126.79 L281.80 126.98 L282.00 126.86 L282.20 126.90 L282.40 126.86 L282.60 126.93 L282.80 126.87 L283.00 126.85 L283.20 126.86 L283.40 126.95 L283.60 126.99 L283.80 127.06 L284.00 127.15 L284.20 127.18 L284.40 127.00 L284.60 127.00 L284.80 127.14 L285.00 127.02 L285.20 127.20 L285.40 127.21 L285.60 127.06 L285.80 127.22 L286.00 127.29 L286.20 127.23 L286.40 127.18 L286.60 127.21 L286.80 127.28 L287.00 127.20 L287.20 127.30 L287.40 127.28 L287.60 127.26 L287.80 127.26 L288.00 127.40 L288.20 127.30 L288.40 127.41 L288.60 127.26 L288.80 127.41 L289.00 127.46 L289.20 127.50 L289.40 127.57 L289.60 127.55 L289.80 127.58 L290.00 127.53 L290.20 127.49 L290.40 127.50 L290.60 127.55 L290.80 127.65 L291.00 127.74 L291.20 127.71 L291.40 127.72 L291.60 127.78 L291.80 127.72 L292.00 127.78 L292.20 127.78 L292.40 127.83 L292.60 127.81 L292.80 127.75 L293.00 127.84 L293.20 127.83 L293.40 128.06 L293.60 128.05 L293.80 127.91 L294.00 127.92 L294.20 128.01 L294.40 127.91 L294.60 128.15 L294.80 128.07 L295.00 128.06 L295.20 128.20 L295.40 128.24 L295.60 128.17 L295.80 128.26 L296.00 128.07 L296.20 128.17 L296.40 128.18 L296.60 128.14 L296.80 128.36 L297.00 128.50 L297.20 128.23 L297.40 128.31 L297.60 128.46 L297.80 128.38 L298.00 128.42 L298.20 128.38 L298.40 128.49 L298.60 128.41 L298.80 128.57 L299.00 128.57 L299.20 128.58 L299.40 128.51 L299.60 128.57 L299.80 128.65 L300.00 128.56 L300.20 128.57 L300.40 128.49 L300.60 128.65 L300.80 128.70 L301.00 128.80 L301.20 128.65 L301.40 128.65 L301.60 128.88 L301.80 128.89 L302.00 128.73 L302.20 128.80 L302.40 128.72 L302.60 128.87 L302.80 129.00 L303.00 128.98 L303.20 128.85 L303.40 128.97 L303.60 128.91 L303.80 129.01 L304.00 128.96 L304.20 129.07 L304.40 129.13 L304.60 129.08 L304.80 129.10 L305.00 129.11 L305.20 129.17 L305.40 129.08 L305.60 129.12 L305.80 129.13 L306.00 129.27 L306.20 129.19 L306.40 129.24 L306.60 129.18 L306.80 129.11 L307.00 129.21 L307.20 129.29 L307.40 129.24 L307.60 129.23 L307.80 129.26 L308.00 129.34 L308.20 129.35 L308.40 129.33 L308.60 129.26 L308.80 129.30 L309.00 129.65 L309.20 129.36 L309.40 129.44 L309.60 129.42 L309.80 129.30 L310.00 129.53 L310.20 129.44 L310.40 129.37 L310.60 129.51 L310.80 129.42 L311.00 129.50 L311.20 129.38 L311.40 129.48 L311.60 129.55 L311.80 129.47 L312.00 129.41 L312.20 129.47 L312.40 129.59 L312.60 129.42 L312.80 129.45 L313.00 129.62 L313.20 129.58 L313.40 129.58 L313.60 129.55 L313.80 129.63 L314.00 129.67 L314.20 129.64 L314.40 129.48 L314.60 129.67 L314.80 129.50 L315.00 129.77 L315.20 129.61 L315.40 129.70 L315.60 129.68 L315.80 129.61 L316.00 129.76 L316.20 129.69 L316.40 129.84 L316.60 129.73 L316.80 129.71 L317.00 129.89 L317.20 129.81 L317.40 129.71 L317.60 129.65 L317.80 129.87 L318.00 129.81 L318.20 129.82 L318.40 129.70 L318.60 129.68 L318.80 129.66 L319.00 129.83 L319.20 129.73 L319.40 129.80 L319.60 129.58 L319.80 129.83 L320.00 129.70 L320.20 129.54 L320.40 129.66 L320.60 129.79 L320.80 129.88 L321.00 129.55 L321.20 129.66 L321.40 129.78 L321.60 129.64 L321.80 129.74 L322.00 129.69 L322.20 129.78 L322.40 129.66 L322.60 129.75 L322.80 129.71 L323.00 129.79 L323.20 129.77 L323.40 129.86 L323.60 129.80 L323.80 129.92 L324.00 129.65 L324.20 129.76 L324.40 129.85 L324.60 129.79 L324.80 129.57 L325.00 129.81 L325.20 129.75 L325.40 129.98 L325.60 129.78 L325.80 129.84 L326.00 129.71 L326.20 129.84 L326.40 129.56 L326.60 129.70 L326.80 129.76 L327.00 129.66 L327.20 129.86 L327.40 129.79 L327.60 129.92 L327.80 129.67 L328.00 129.72 L328.20 129.83 L328.40 129.74 L328.60 129.85 L328.80 129.83 L329.00 129.72 L329.20 129.79 L329.40 129.82 L329.60 129.80 L329.80 129.76 L330.00 129.74 L330.20 129.75 L330.40 129.85 L330.60 129.94 L330.80 129.66 L331.00 129.69 L331.20 129.75 L331.40 129.88 L331.60 129.69 L331.80 129.95 L332.00 129.94 L332.20 129.57 L332.40 129.81 L332.60 129.81 L332.80 129.72 L333.00 129.60 L333.20 129.77 L333.40 129.72 L333.60 129.84 L333.80 129.79 L334.00 129.67 L334.20 129.90 L334.40 129.89 L334.60 129.86 L334.80 129.74 L335.00 129.81 L335.20 129.74 L335.40 129.69 L335.60 129.58 L335.80 129.75 L336.00 129.57 L336.20 129.78 L336.40 129.61 L336.60 129.74 L336.80 129.69 L337.00 129.62 L337.20 129.63 L337.40 129.66 L337.60 129.83 L337.80 129.74 L338.00 129.68 L338.20 129.77 L338.40 129.60 L338.60 129.57 L338.80 129.62 L339.00 129.77 L339.20 129.66 L339.40 129.69 L339.60 129.69 L339.80 129.65 L340.00 129.78 L340.20 129.73 L340.40 129.60 L340.60 129.59 L340.80 129.66 L341.00 129.59 L341.20 129.66 L341.40 129.72 L341.60 129.66 L341.80 129.67 L342.00 129.61 L342.20 129.58 L342.40 129.56 L342.60 129.75 L342.80 129.58 L343.00 129.64 L343.20 129.64 L343.40 129.67 L343.60 129.60 L343.80 129.49 L344.00 129.79 L344.20 129.53 L344.40 129.67 L344.60 129.53 L344.80 129.67 L345.00 129.52 L345.20 129.74" stroke="#1860d2"/>
<path d="M183.80 131.83 L184.00 131.66 L184.20 131.92 L184.40 131.63 L184.60 131.75 L184.80 131.87 L185.00 131.74 L185.20 131.88 L185.40 131.77 L185.60 131.72 L185.80 131.87 L186.00 131.76 L186.20 131.72 L186.40 131.83 L186.60 131.73 L186.80 131.64 L187.00 131.69 L187.20 131.94 L187.40 131.93 L187.60 131.61 L187.80 131.80 L188.00 131.83 L188.20 131.70 L188.40 131.78 L188.60 131.64 L188.80 131.69 L189.00 131.80 L189.20 131.71 L189.40 131.70 L189.60 131.69 L189.80 131.59 L190.00 131.62 L190.20 131.65 L190.40 131.68 L190.60 131.62 L190.80 131.84 L191.00 131.54 L191.20 131.59 L191.40 131.63 L191.60 131.72 L191.80 131.56 L192.00 131.69 L192.20 131.60 L192.40 131.60 L192.60 131.70 L192.80 131.73 L193.00 131.74 L193.20 131.56 L193.40 131.74 L193.60 131.73 L193.80 131.67 L194.00 131.68 L194.20 131.64 L194.40 131.63 L194.60 131.71 L194.80 131.77 L195.00 131.61 L195.20 131.66 L195.40 131.70 L195.60 131.51 L195.80 131.75 L196.00 131.65 L196.20 131.73 L196.40 131.59 L196.60 131.54 L196.80 131.59 L197.00 131.63 L197.20 131.52 L197.40 131.67 L197.60 131.62 L197.80 131.50 L198.00 131.63 L198.20 131.57 L198.40 131.59 L198.60 131.55 L198.80 131.52 L199.00 131.47 L199.20 131.58 L199.40 131.57 L199.60 131.61 L199.80 131.51 L200.00 131.60 L200.20 131.63 L200.40 131.46 L200.60 131.57 L200.80 131.73 L201.00 131.50 L201.20 131.52 L201.40 131.53 L201.60 131.49 L201.80 131.60 L202.00 131.52 L202.20 131.52 L202.40 131.46 L202.60 131.56 L202.80 131.51 L203.00 131.48 L203.20 131.48 L203.40 131.64 L203.60 131.50 L203.80 131.52 L204.00 131.61 L204.20 131.48 L204.40 131.57 L204.60 131.40 L204.80 131.54 L205.00 131.31 L205.20 131.49 L205.40 131.44 L205.60 131.41 L205.80 131.55 L206.00 131.52 L206.20 131.53 L206.40 131.58 L206.60 131.49 L206.80 131.50 L207.00 131.44 L207.20 131.59 L207.40 131.51 L207.60 131.37 L207.80 131.36 L208.00 131.36 L208.20 131.36 L208.40 131.52 L208.60 131.44 L208.80 131.50 L209.00 131.34 L209.20 131.34 L209.40 131.50 L209.60 131.23 L209.80 131.29 L210.00 131.21 L210.20 131.32 L210.40 131.59 L210.60 131.31 L210.80 131.45 L211.00 131.49 L211.20 131.30 L211.40 131.29 L211.60 131.37 L211.80 131.40 L212.00 131.21 L212.20 131.26 L212.40 131.46 L212.60 131.25 L212.80 131.34 L213.00 131.39 L213.20 131.27 L213.40 131.28 L213.60 131.24 L213.80 131.22 L214.00 131.22 L214.20 131.13 L214.40 131.21 L214.60 131.23 L214.80 131.30 L215.00 131.19 L215.20 131.17 L215.40 131.36 L215.60 131.20 L215.80 131.17 L216.00 131.13 L216.20 131.16 L216.40 131.08 L216.60 131.09 L216.80 131.05 L217.00 131.01 L217.20 131.05 L217.40 130.96 L217.60 131.19 L217.80 130.94 L218.00 131.15 L218.20 131.01 L218.40 131.03 L218.60 131.05 L218.80 130.76 L219.00 131.00 L219.20 130.87 L219.40 130.75 L219.60 130.68 L219.80 130.73 L220.00 130.52 L220.20 130.73 L220.40 130.51 L220.60 130.52 L220.80 130.38 L221.00 130.25 L221.20 130.16 L221.40 130.01 L221.60 130.06 L221.80 129.81 L222.00 129.70 L222.20 129.51 L222.40 129.33 L222.60 129.08 L222.80 128.88 L223.00 128.42 L223.20 128.04 L223.40 127.70 L223.60 127.21 L223.80 126.69 L224.00 126.14 L224.20 125.37 L224.40 124.45 L224.60 123.30 L224.80 122.18 L225.00 120.69 L225.20 119.01 L225.40 116.89 L225.60 114.40 L225.80 111.53 L226.00 107.99 L226.20 103.87 L226.40 99.12 L226.60 93.44 L226.80 86.98 L227.00 79.46 L227.20 71.05 L227.40 62.26 L227.60 52.91 L227.80 43.40 L228.00 34.84 L228.20 27.78 L228.40 22.63 L228.60 20.06 L228.80 20.78 L229.00 24.08 L229.20 29.97 L229.40 37.78 L229.60 46.54 L229.80 55.90 L230.00 65.29 L230.20 74.07 L230.40 82.01 L230.60 89.22 L230.80 95.38 L231.00 100.79 L231.20 105.20 L231.40 109.11 L231.60 112.47 L231.80 115.05 L232.00 117.34 L232.20 119.34 L232.40 120.93 L232.60 122.24 L232.80 123.33 L233.00 124.53 L233.20 125.25 L233.40 126.06 L233.60 126.47 L233.80 127.05 L234.00 127.47 L234.20 127.86 L234.40 128.05 L234.60 128.55 L234.80 128.66 L235.00 128.91 L235.20 128.99 L235.40 129.35 L235.60 129.24 L235.80 129.63 L236.00 129.56 L236.20 129.65 L236.40 129.70 L236.60 129.94 L236.80 129.82 L237.00 129.87 L237.20 129.91 L237.40 130.06 L237.60 130.10 L237.80 130.03 L238.00 130.15 L238.20 130.25 L238.40 130.20 L238.60 130.19 L238.80 130.10 L239.00 130.31 L239.20 130.25 L239.40 130.09 L239.60 130.14 L239.80 129.98 L240.00 130.24 L240.20 130.10 L240.40 130.18 L240.60 130.31 L240.80 130.08 L241.00 130.25 L241.20 130.15 L241.40 130.08 L241.60 130.26 L241.80 130.18 L242.00 130.09 L242.20 130.17 L242.40 130.07 L242.60 130.04 L242.80 130.06 L243.00 130.16 L243.20 129.94 L243.40 129.95 L243.60 130.11 L243.80 129.91 L244.00 129.99 L244.20 129.97 L244.40 129.87 L244.60 129.90 L244.80 129.93 L245.00 129.92 L245.20 129.96 L245.40 129.91 L245.60 129.94 L245.80 129.87 L246.00 129.80 L246.20 129.86 L246.40 129.83 L246.60 129.84 L246.80 129.74 L247.00 129.72 L247.20 129.70 L247.40 129.57 L247.60 129.71 L247.80 129.60 L248.00 129.57 L248.20 129.58 L248.40 129.75 L248.60 129.50 L248.80 129.66 L249.00 129.35 L249.20 129.47 L249.40 129.62 L249.60 129.46 L249.80 129.45 L250.00 129.35 L250.20 129.22 L250.40 129.39 L250.60 129.40 L250.80 129.38 L251.00 129.43 L251.20 129.24 L251.40 129.27 L251.60 129.03 L251.80 129.15 L252.00 129.16 L252.20 129.22 L252.40 129.24 L252.60 129.20 L252.80 129.08 L253.00 129.00 L253.20 128.98 L253.40 128.96 L253.60 128.95 L253.80 129.00 L254.00 128.86 L254.20 128.72 L254.40 128.73 L254.60 129.03 L254.80 128.88 L255.00 128.70 L255.20 128.69 L255.40 128.74 L255.60 128.68 L255.80 128.66 L256.00 128.45 L256.20 128.46 L256.40 128.56 L256.60 128.57 L256.80 128.51 L257.00 128.59 L257.20 128.44 L257.40 128.43 L257.60 128.38 L257.80 128.43 L258.00 128.27 L258.20 128.45 L258.40 128.18 L258.60 128.30 L258.80 128.26 L259.00 128.30 L259.20 128.06 L259.40 128.05 L259.60 128.07 L259.80 128.12 L260.00 128.11 L260.20 127.80 L260.40 127.96 L260.60 127.97 L260.80 127.95 L261.00 127.93 L261.20 127.86 L261.40 127.85 L261.60 127.67 L261.80 127.86 L262.00 127.57 L262.20 127.72 L262.40 127.63 L262.60 127.71 L262.80 127.57 L263.00 127.70 L263.20 127.63 L263.40 127.62 L263.60 127.64 L263.80 127.61 L264.00 127.48 L264.20 127.54 L264.40 127.49 L264.60 127.48 L264.80 127.41 L265.00 127.17 L265.20 127.33 L265.40 127.33 L265.60 127.26 L265.80 127.22 L266.00 127.27 L266.20 127.18 L266.40 127.26 L266.60 127.29 L266.80 127.17 L267.00 127.22 L267.20 127.03 L267.40 127.03 L267.60 127.06 L267.80 126.99 L268.00 127.05 L268.20 127.03 L268.40 127.13 L268.60 126.95 L268.80 127.07 L269.00 126.87 L269.20 126.92 L269.40 126.98 L269.60 126.93 L269.80 126.69 L270.00 126.87 L270.20 126.89 L270.40 126.72 L270.60 126.79 L270.80 126.79 L271.00 126.83 L271.20 126.88 L271.40 126.66 L271.60 126.69 L271.80 126.87 L272.00 126.83 L272.20 126.86 L272.40 126.71 L272.60 126.78 L272.80 126.50 L273.00 126.71 L273.20 126.59 L273.40 126.55 L273.60 126.57 L273.80 126.72 L274.00 126.75 L274.20 126.59 L274.40 126.60 L274.60 126.71 L274.80 126.56 L275.00 126.63 L275.20 126.65 L275.40 126.69 L275.60 126.57 L275.80 126.37 L276.00 126.57 L276.20 126.64 L276.40 126.54 L276.60 126.53 L276.80 126.50 L277.00 126.61 L277.20 126.59 L277.40 126.60 L277.60 126.58 L277.80 126.68 L278.00 126.61 L278.20 126.58 L278.40 126.50 L278.60 126.56 L278.80 126.59 L279.00 126.71 L279.20 126.64 L279.40 126.58 L279.60 126.67 L279.80 126.67 L280.00 126.59 L280.20 126.67 L280.40 126.55 L280.60 126.65 L280.80 126.81 L281.00 126.74 L281.20 126.72 L281.40 126.75 L281.60 126.74 L281.80 126.60 L282.00 126.67 L282.20 126.66 L282.40 126.76 L282.60 126.81 L282.80 126.91 L283.00 126.75 L283.20 126.69 L283.40 126.81 L283.60 126.80 L283.80 126.84 L284.00 126.83 L284.20 126.88 L284.40 126.81 L284.60 126.90 L284.80 126.97 L285.00 126.92 L285.20 126.96 L285.40 126.89 L285.60 127.02 L285.80 126.96 L286.00 126.93 L286.20 126.99 L286.40 126.99 L286.60 127.03 L286.80 127.01 L287.00 127.21 L287.20 127.16 L287.40 127.15 L287.60 127.17 L287.80 127.14 L288.00 127.23 L288.20 127.17 L288.40 127.20 L288.60 127.17 L288.80 127.34 L289.00 127.36 L289.20 127.37 L289.40 127.40 L289.60 127.15 L289.80 127.36 L290.00 127.45 L290.20 127.43 L290.40 127.29 L290.60 127.46 L290.80 127.51 L291.00 127.44 L291.20 127.41 L291.40 127.48 L291.60 127.31 L291.80 127.59 L292.00 127.52 L292.20 127.59 L292.40 127.62 L292.60 127.65 L292.80 127.80 L293.00 127.64 L293.20 127.71 L293.40 127.58 L293.60 127.72 L293.80 127.64 L294.00 127.87 L294.20 127.83 L294.40 127.81 L294.60 127.95 L294.80 127.82 L295.00 127.91 L295.20 127.89 L295.40 127.90 L295.60 127.98 L295.80 127.97 L296.00 128.03 L296.20 127.98 L296.40 127.96 L296.60 128.22 L296.80 128.16 L297.00 128.13 L297.20 128.19 L297.40 128.12 L297.60 128.25 L297.80 128.13 L298.00 128.30 L298.20 128.32 L298.40 128.31 L298.60 128.39 L298.80 128.35 L299.00 128.51 L299.20 128.45 L299.40 128.30 L299.60 128.36 L299.80 128.59 L300.00 128.44 L300.20 128.53 L300.40 128.48 L300.60 128.66 L300.80 128.65 L301.00 128.65 L301.20 128.57 L301.40 128.60 L301.60 128.76 L301.80 128.62 L302.00 128.52 L302.20 128.83 L302.40 128.80 L302.60 128.64 L302.80 128.78 L303.00 128.83 L303.20 128.82 L303.40 128.95 L303.60 128.93 L303.80 128.79 L304.00 128.86 L304.20 128.96 L304.40 128.98 L304.60 128.90 L304.80 129.03 L305.00 128.89 L305.20 129.04 L305.40 128.85 L305.60 129.04 L305.80 129.18 L306.00 129.16 L306.20 128.99 L306.40 128.83 L306.60 129.10 L306.80 129.18 L307.00 129.12 L307.20 129.14 L307.40 129.03 L307.60 129.11 L307.80 129.06 L308.00 129.08 L308.20 129.15 L308.40 129.32 L308.60 129.25 L308.80 129.17 L309.00 129.23 L309.20 129.18 L309.40 129.22 L309.60 129.29 L309.80 129.17 L310.00 129.32 L310.20 129.26 L310.40 129.41 L310.60 129.26 L310.80 129.36 L311.00 129.28 L311.20 129.40 L311.40 129.23 L311.60 129.34 L311.80 129.32 L312.00 129.28 L312.20 129.38 L312.40 129.40 L312.60 129.38 L312.80 129.36 L313.00 129.39 L313.20 129.40 L313.40 129.54 L313.60 129.51 L313.80 129.58 L314.00 129.56 L314.20 129.64 L314.40 129.51 L314.60 129.53 L314.80 129.53 L315.00 129.50 L315.20 129.59 L315.40 129.57 L315.60 129.59 L315.80 129.58 L316.00 129.64 L316.20 129.46 L316.40 129.62 L316.60 129.58 L316.80 129.53 L317.00 129.56 L317.20 129.63 L317.40 129.66 L317.60 129.59 L317.80 129.66 L318.00 129.64 L318.20 129.70 L318.40 129.70 L318.60 129.69 L318.80 129.60 L319.00 129.55 L319.20 129.75 L319.40 129.58 L319.60 129.71 L319.80 129.65 L320.00 129.78 L320.20 129.64 L320.40 129.63 L320.60 129.50 L320.80 129.71 L321.00 129.66 L321.20 129.62 L321.40 129.64 L321.60 129.77 L321.80 129.70 L322.00 129.74 L322.20 129.66 L322.40 129.70 L322.60 129.75 L322.80 129.66 L323.00 129.78 L323.20 129.67 L323.40 129.84 L323.60 129.65 L323.80 129.65 L324.00 129.70 L324.20 129.67 L324.40 129.69 L324.60 129.69 L324.80 129.79 L325.00 129.66 L325.20 129.79 L325.40 129.76 L325.60 129.71 L325.80 129.68 L326.00 129.84 L326.20 129.50 L326.40 129.66 L326.60 129.69 L326.80 129.74 L327.00 129.70 L327.20 129.77 L327.40 129.74 L327.60 129.78 L327.80 129.65 L328.00 129.73 L328.20 129.82 L328.40 129.64 L328.60 129.71 L328.80 129.58 L329.00 129.72 L329.20 129.63 L329.40 129.74 L329.60 129.60 L329.80 129.69 L330.00 129.60 L330.20 129.68 L330.40 129.71 L330.60 129.86 L330.80 129.71 L331.00 129.71 L331.20 129.82 L331.40 129.76 L331.60 129.59 L331.80 129.71 L332.00 129.68 L332.20 129.73 L332.40 129.71 L332.60 129.52 L332.80 129.62 L333.00 129.80 L333.20 129.72 L333.40 129.58 L333.60 129.61 L333.80 129.63 L334.00 129.54 L334.20 129.38 L334.40 129.68 L334.60 129.55 L334.80 129.58 L335.00 129.57 L335.20 129.60 L335.40 129.59 L335.60 129.74 L335.80 129.59 L336.00 129.66 L336.20 129.61 L336.40 129.72 L336.60 129.62 L336.80 129.45 L337.00 129.75 L337.20 129.74 L337.40 129.66 L337.60 129.47 L337.80 129.70 L338.00 129.62 L338.20 129.53 L338.40 129.54 L338.60 129.68 L338.80 129.53 L339.00 129.57 L339.20 129.52 L339.40 129.62 L339.60 129.50 L339.80 129.62 L340.00 129.55 L340.20 129.73 L340.40 129.53 L340.60 129.57 L340.80 129.64 L341.00 129.63 L341.20 129.43 L341.40 129.57 L341.60 129.58 L341.80 129.60 L342.00 129.53 L342.20 129.66 L342.40 129.65 L342.60 129.51 L342.80 129.45 L343.00 129.53 L343.20 129.58 L343.40 129.62 L343.60 129.44 L343.80 129.48 L344.00 129.37 L344.20 129.45 L344.40 129.61 L344.60 129.69 L344.80 129.58 L345.00 129.51 L345.20 129.49" stroke="#28a463"/>
</g>
<rect x="183.3" y="9.7" width="162.60" height="131.30" fill="none" stroke="#252525" stroke-width="1.4"/>
<g stroke="#252525" stroke-width="1.1">
<line x1="183.30" y1="141.00" x2="183.30" y2="144.00"/>
<line x1="199.56" y1="141.00" x2="199.56" y2="142.60"/>
<line x1="215.82" y1="141.00" x2="215.82" y2="144.00"/>
<line x1="232.08" y1="141.00" x2="232.08" y2="142.60"/>
<line x1="248.34" y1="141.00" x2="248.34" y2="144.00"/>
<line x1="264.60" y1="141.00" x2="264.60" y2="142.60"/>
<line x1="280.86" y1="141.00" x2="280.86" y2="144.00"/>
<line x1="297.12" y1="141.00" x2="297.12" y2="142.60"/>
<line x1="313.38" y1="141.00" x2="313.38" y2="144.00"/>
<line x1="329.64" y1="141.00" x2="329.64" y2="142.60"/>
<line x1="345.90" y1="141.00" x2="345.90" y2="144.00"/>
</g>
<g font-size="11.1">
<text x="182.20" y="153.9" text-anchor="middle">570</text>
<text x="214.72" y="153.9" text-anchor="middle">572</text>
<text x="247.24" y="153.9" text-anchor="middle">574</text>
<text x="279.76" y="153.9" text-anchor="middle">576</text>
<text x="312.28" y="153.9" text-anchor="middle">578</text>
<text x="344.80" y="153.9" text-anchor="middle">580</text>
</g>
<text x="268.5" y="165.6" font-size="10.8" text-anchor="middle" textLength="81.2" lengthAdjust="spacingAndGlyphs">Wavelength (nm)</text>
<text transform="translate(176.0,73.0) rotate(-90)" font-size="10.3" text-anchor="middle" textLength="81.2" lengthAdjust="spacingAndGlyphs">Intensity<tspan font-weight="normal" stroke-width="0.3">(</tspan>Counts<tspan font-weight="normal" stroke-width="0.3">)</tspan></text>
<text x="234" y="21.6" font-size="11.1">572.8 nm</text>
<text x="274.8" y="109.7" font-size="11.1">575.7 nm</text>
<g stroke="#000" fill="#000">
<line x1="244.00" y1="23.50" x2="236.04" y2="32.11" stroke-width="1.10"/><polygon stroke="none" points="233.00,35.40 238.27,32.65 235.33,29.93"/>
<line x1="285.00" y1="111.40" x2="277.16" y2="120.33" stroke-width="1.10"/><polygon stroke="none" points="274.20,123.70 279.40,120.81 276.39,118.17"/>
</g>
<line x1="300.50" y1="17.30" x2="327.30" y2="17.30" stroke="#111" stroke-width="1.10"/>
<text x="330.00" y="21.30" font-size="11.60">S<tspan font-size="8.20" dy="3.20" font-weight="bold">0</tspan></text>
<line x1="300.50" y1="34.20" x2="327.30" y2="34.20" stroke="#e8303a" stroke-width="1.10"/>
<text x="330.00" y="38.20" font-size="11.60">S<tspan font-size="8.20" dy="3.20" font-weight="bold">11</tspan></text>
<line x1="300.50" y1="51.80" x2="327.30" y2="51.80" stroke="#1860d2" stroke-width="1.10"/>
<text x="330.00" y="55.80" font-size="11.60">S<tspan font-size="8.20" dy="3.20" font-weight="bold">12</tspan></text>
<line x1="300.50" y1="68.80" x2="327.30" y2="68.80" stroke="#28a463" stroke-width="1.10"/>
<text x="330.00" y="72.80" font-size="11.60">S<tspan font-size="8.20" dy="3.20" font-weight="bold">13</tspan></text>

<!-- inset 2 -->
<rect x="367.6" y="9.6" width="163.60" height="131.60" fill="#fff" stroke="#252525" stroke-width="1.4"/>
<g fill="none" stroke-width="1.1" stroke-linejoin="round">
<path d="M368.10 135.0 L530.70 135.0" stroke="#111" stroke-width="1.3"/>
<path d="M368.10 106.19 L368.60 106.57 L369.10 105.71 L369.60 106.25 L370.10 105.78 L370.60 105.55 L371.10 105.51 L371.60 105.91 L372.10 105.36 L372.60 105.80 L373.10 105.91 L373.60 105.00 L374.10 104.80 L374.60 104.58 L375.10 105.16 L375.60 104.68 L376.10 104.67 L376.60 104.55 L377.10 105.09 L377.60 104.82 L378.10 104.73 L378.60 103.99 L379.10 104.17 L379.60 104.33 L380.10 104.25 L380.60 104.30 L381.10 104.61 L381.60 104.29 L382.10 104.26 L382.60 103.94 L383.10 103.81 L383.60 103.74 L384.10 103.79 L384.60 103.30 L385.10 103.56 L385.60 103.68 L386.10 103.48 L386.60 103.56 L387.10 103.00 L387.60 103.32 L388.10 103.43 L388.60 103.71 L389.10 103.36 L389.60 103.21 L390.10 103.06 L390.60 103.18 L391.10 102.96 L391.60 103.26 L392.10 102.84 L392.60 103.12 L393.10 102.68 L393.60 102.37 L394.10 102.31 L394.60 102.91 L395.10 102.40 L395.60 102.35 L396.10 103.13 L396.60 101.98 L397.10 102.20 L397.60 101.73 L398.10 101.84 L398.60 102.06 L399.10 101.71 L399.60 102.22 L400.10 101.29 L400.60 101.24 L401.10 100.91 L401.60 101.19 L402.10 100.83 L402.60 100.87 L403.10 100.53 L403.60 100.74 L404.10 100.28 L404.60 100.33 L405.10 100.11 L405.60 99.77 L406.10 99.81 L406.60 99.63 L407.10 99.58 L407.60 98.68 L408.10 99.45 L408.60 98.85 L409.10 98.71 L409.60 98.51 L410.10 97.73 L410.60 98.08 L411.10 97.69 L411.60 97.21 L412.10 97.30 L412.60 96.71 L413.10 96.21 L413.60 96.44 L414.10 96.10 L414.60 95.65 L415.10 95.19 L415.60 95.31 L416.10 94.31 L416.60 94.12 L417.10 93.58 L417.60 93.12 L418.10 92.83 L418.60 91.93 L419.10 91.84 L419.60 91.25 L420.10 90.54 L420.60 89.88 L421.10 89.14 L421.60 88.98 L422.10 88.86 L422.60 87.60 L423.10 86.86 L423.60 86.24 L424.10 85.79 L424.60 85.13 L425.10 84.35 L425.60 83.49 L426.10 82.43 L426.60 82.35 L427.10 81.27 L427.60 80.75 L428.10 79.91 L428.60 79.14 L429.10 78.64 L429.60 77.79 L430.10 77.76 L430.60 77.13 L431.10 76.55 L431.60 75.80 L432.10 75.73 L432.60 75.29 L433.10 75.19 L433.60 74.93 L434.10 74.67 L434.60 74.81 L435.10 75.26 L435.60 75.76 L436.10 75.76 L436.60 75.90 L437.10 76.43 L437.60 77.22 L438.10 77.55 L438.60 78.23 L439.10 79.11 L439.60 79.93 L440.10 79.98 L440.60 80.75 L441.10 81.41 L441.60 81.85 L442.10 82.67 L442.60 83.31 L443.10 83.39 L443.60 84.79 L444.10 84.71 L444.60 85.51 L445.10 85.70 L445.60 85.37 L446.10 85.86 L446.60 86.58 L447.10 86.92 L447.60 87.20 L448.10 86.72 L448.60 87.33 L449.10 87.87 L449.60 88.31 L450.10 88.32 L450.60 87.98 L451.10 88.40 L451.60 88.63 L452.10 88.77 L452.60 89.32 L453.10 89.49 L453.60 89.63 L454.10 89.06 L454.60 89.10 L455.10 89.09 L455.60 89.50 L456.10 89.65 L456.60 89.29 L457.10 89.80 L457.60 89.85 L458.10 89.77 L458.60 90.00 L459.10 89.64 L459.60 89.66 L460.10 90.41 L460.60 89.93 L461.10 90.35 L461.60 89.92 L462.10 89.50 L462.60 90.32 L463.10 89.84 L463.60 89.97 L464.10 90.48 L464.60 89.83 L465.10 90.19 L465.60 90.60 L466.10 90.86 L466.60 90.02 L467.10 90.35 L467.60 90.12 L468.10 90.64 L468.60 90.15 L469.10 90.64 L469.60 89.90 L470.10 90.45 L470.60 90.62 L471.10 90.36 L471.60 90.14 L472.10 89.96 L472.60 89.69 L473.10 90.28 L473.60 90.23 L474.10 90.02 L474.60 89.51 L475.10 89.56 L475.60 89.73 L476.10 90.19 L476.60 90.18 L477.10 89.88 L477.60 89.15 L478.10 88.92 L478.60 89.45 L479.10 89.51 L479.60 89.79 L480.10 89.03 L480.60 89.54 L481.10 89.08 L481.60 89.28 L482.10 88.90 L482.60 88.87 L483.10 88.78 L483.60 88.83 L484.10 88.55 L484.60 88.53 L485.10 88.78 L485.60 88.29 L486.10 88.47 L486.60 88.34 L487.10 88.37 L487.60 88.72 L488.10 88.11 L488.60 88.71 L489.10 87.65 L489.60 87.85 L490.10 88.24 L490.60 87.28 L491.10 87.82 L491.60 87.94 L492.10 87.34 L492.60 88.09 L493.10 88.12 L493.60 87.54 L494.10 87.45 L494.60 87.60 L495.10 87.57 L495.60 87.09 L496.10 87.02 L496.60 87.63 L497.10 87.04 L497.60 86.85 L498.10 86.57 L498.60 85.90 L499.10 86.61 L499.60 86.58 L500.10 86.46 L500.60 86.34 L501.10 86.54 L501.60 86.31 L502.10 86.19 L502.60 85.99 L503.10 85.85 L503.60 85.89 L504.10 85.57 L504.60 85.99 L505.10 85.65 L505.60 85.47 L506.10 85.95 L506.60 85.50 L507.10 84.84 L507.60 84.82 L508.10 84.94 L508.60 84.72 L509.10 85.13 L509.60 84.86 L510.10 84.80 L510.60 84.74 L511.10 84.59 L511.60 83.72 L512.10 83.73 L512.60 83.73 L513.10 84.05 L513.60 83.86 L514.10 84.21 L514.60 83.95 L515.10 83.86 L515.60 83.19 L516.10 83.25 L516.60 83.44 L517.10 82.74 L517.60 82.76 L518.10 83.35 L518.60 83.33 L519.10 82.12 L519.60 82.49 L520.10 82.06 L520.60 81.72 L521.10 81.94 L521.60 82.22 L522.10 82.13 L522.60 81.91 L523.10 82.09 L523.60 81.37 L524.10 81.42 L524.60 81.81 L525.10 81.48 L525.60 80.93 L526.10 80.69 L526.60 80.93 L527.10 80.86 L527.60 80.78 L528.10 80.53 L528.60 80.49 L529.10 80.16 L529.60 80.20 L530.10 79.92 L530.60 79.62" stroke="#e8303a"/>
<path d="M368.10 99.59 L368.60 99.29 L369.10 99.41 L369.60 99.22 L370.10 98.89 L370.60 99.34 L371.10 99.09 L371.60 98.48 L372.10 99.26 L372.60 98.58 L373.10 98.79 L373.60 98.82 L374.10 98.58 L374.60 98.18 L375.10 97.80 L375.60 98.23 L376.10 98.38 L376.60 97.91 L377.10 98.06 L377.60 98.47 L378.10 97.76 L378.60 99.11 L379.10 98.02 L379.60 97.51 L380.10 97.90 L380.60 97.66 L381.10 98.04 L381.60 97.25 L382.10 97.75 L382.60 97.19 L383.10 97.55 L383.60 97.84 L384.10 97.40 L384.60 97.70 L385.10 97.18 L385.60 97.49 L386.10 96.99 L386.60 97.06 L387.10 97.10 L387.60 96.62 L388.10 96.74 L388.60 96.78 L389.10 97.39 L389.60 96.90 L390.10 96.48 L390.60 96.41 L391.10 96.67 L391.60 96.32 L392.10 96.64 L392.60 96.21 L393.10 96.16 L393.60 96.63 L394.10 95.80 L394.60 96.91 L395.10 95.96 L395.60 95.68 L396.10 96.18 L396.60 96.23 L397.10 96.19 L397.60 95.87 L398.10 95.41 L398.60 95.44 L399.10 95.41 L399.60 95.49 L400.10 95.39 L400.60 95.18 L401.10 95.08 L401.60 94.06 L402.10 94.39 L402.60 94.72 L403.10 94.10 L403.60 94.05 L404.10 93.70 L404.60 93.70 L405.10 93.37 L405.60 92.80 L406.10 93.30 L406.60 93.11 L407.10 92.53 L407.60 91.97 L408.10 92.23 L408.60 91.73 L409.10 92.13 L409.60 91.51 L410.10 90.86 L410.60 90.84 L411.10 91.28 L411.60 90.41 L412.10 89.92 L412.60 89.77 L413.10 89.20 L413.60 89.46 L414.10 88.48 L414.60 88.71 L415.10 88.49 L415.60 88.09 L416.10 87.39 L416.60 86.89 L417.10 86.59 L417.60 86.20 L418.10 85.81 L418.60 85.16 L419.10 84.73 L419.60 84.01 L420.10 83.38 L420.60 83.39 L421.10 82.64 L421.60 82.16 L422.10 81.85 L422.60 80.56 L423.10 79.94 L423.60 79.32 L424.10 78.96 L424.60 77.57 L425.10 77.05 L425.60 76.73 L426.10 75.32 L426.60 75.25 L427.10 74.81 L427.60 73.76 L428.10 72.65 L428.60 72.02 L429.10 71.14 L429.60 70.74 L430.10 70.45 L430.60 70.00 L431.10 68.62 L431.60 68.60 L432.10 68.52 L432.60 68.00 L433.10 67.18 L433.60 67.86 L434.10 68.01 L434.60 67.99 L435.10 68.19 L435.60 68.74 L436.10 68.35 L436.60 68.98 L437.10 69.57 L437.60 70.93 L438.10 70.32 L438.60 71.37 L439.10 72.27 L439.60 72.59 L440.10 73.15 L440.60 73.78 L441.10 73.45 L441.60 74.66 L442.10 74.93 L442.60 76.04 L443.10 76.26 L443.60 76.73 L444.10 77.20 L444.60 77.25 L445.10 78.29 L445.60 77.94 L446.10 78.68 L446.60 78.90 L447.10 79.52 L447.60 79.47 L448.10 79.44 L448.60 80.08 L449.10 80.58 L449.60 79.98 L450.10 80.85 L450.60 80.43 L451.10 80.72 L451.60 80.87 L452.10 80.76 L452.60 81.65 L453.10 81.52 L453.60 81.57 L454.10 81.09 L454.60 81.75 L455.10 81.36 L455.60 82.07 L456.10 81.22 L456.60 81.99 L457.10 81.38 L457.60 81.45 L458.10 81.99 L458.60 82.22 L459.10 82.34 L459.60 81.94 L460.10 81.94 L460.60 82.40 L461.10 81.84 L461.60 81.88 L462.10 82.39 L462.60 82.40 L463.10 82.32 L463.60 82.68 L464.10 81.86 L464.60 82.49 L465.10 83.01 L465.60 82.27 L466.10 82.03 L466.60 82.76 L467.10 82.57 L467.60 82.76 L468.10 82.61 L468.60 82.27 L469.10 82.32 L469.60 82.03 L470.10 83.10 L470.60 82.06 L471.10 82.20 L471.60 82.07 L472.10 82.36 L472.60 82.61 L473.10 82.01 L473.60 82.25 L474.10 82.29 L474.60 82.66 L475.10 81.92 L475.60 82.02 L476.10 82.37 L476.60 81.43 L477.10 81.79 L477.60 81.77 L478.10 81.37 L478.60 81.59 L479.10 81.66 L479.60 81.88 L480.10 81.77 L480.60 81.30 L481.10 81.14 L481.60 81.63 L482.10 80.87 L482.60 81.09 L483.10 80.87 L483.60 80.68 L484.10 81.15 L484.60 80.61 L485.10 80.77 L485.60 81.25 L486.10 81.27 L486.60 80.37 L487.10 80.43 L487.60 80.37 L488.10 80.17 L488.60 80.86 L489.10 80.67 L489.60 80.49 L490.10 79.99 L490.60 80.42 L491.10 80.18 L491.60 80.04 L492.10 80.14 L492.60 80.29 L493.10 79.81 L493.60 79.64 L494.10 79.39 L494.60 80.01 L495.10 79.67 L495.60 78.76 L496.10 79.42 L496.60 79.54 L497.10 78.78 L497.60 78.73 L498.10 79.38 L498.60 78.92 L499.10 78.51 L499.60 78.87 L500.10 78.89 L500.60 78.44 L501.10 78.41 L501.60 78.58 L502.10 78.48 L502.60 78.93 L503.10 78.73 L503.60 78.43 L504.10 78.02 L504.60 77.96 L505.10 77.43 L505.60 77.97 L506.10 77.80 L506.60 77.65 L507.10 77.97 L507.60 78.05 L508.10 77.09 L508.60 77.66 L509.10 77.59 L509.60 77.21 L510.10 77.10 L510.60 77.72 L511.10 77.36 L511.60 77.68 L512.10 76.77 L512.60 76.60 L513.10 76.75 L513.60 76.99 L514.10 77.03 L514.60 77.13 L515.10 76.30 L515.60 75.98 L516.10 76.59 L516.60 76.47 L517.10 76.28 L517.60 76.44 L518.10 75.70 L518.60 75.38 L519.10 76.33 L519.60 75.74 L520.10 75.47 L520.60 75.68 L521.10 75.99 L521.60 75.31 L522.10 75.65 L522.60 75.08 L523.10 75.50 L523.60 74.90 L524.10 75.08 L524.60 74.63 L525.10 74.70 L525.60 74.48 L526.10 74.19 L526.60 74.23 L527.10 74.29 L527.60 73.95 L528.10 73.71 L528.60 73.87 L529.10 74.06 L529.60 73.50 L530.10 73.12 L530.60 73.04" stroke="#1860d2"/>
<path d="M368.10 94.86 L368.60 94.55 L369.10 94.18 L369.60 93.87 L370.10 93.71 L370.60 93.82 L371.10 94.23 L371.60 93.56 L372.10 93.43 L372.60 93.51 L373.10 93.26 L373.60 93.50 L374.10 92.85 L374.60 93.07 L375.10 92.75 L375.60 93.08 L376.10 92.79 L376.60 92.44 L377.10 92.41 L377.60 92.45 L378.10 92.77 L378.60 92.42 L379.10 92.26 L379.60 91.80 L380.10 91.56 L380.60 91.46 L381.10 91.63 L381.60 91.83 L382.10 91.64 L382.60 91.87 L383.10 91.16 L383.60 91.33 L384.10 91.24 L384.60 90.95 L385.10 90.54 L385.60 90.84 L386.10 91.25 L386.60 90.43 L387.10 91.08 L387.60 91.01 L388.10 90.64 L388.60 90.68 L389.10 90.48 L389.60 90.44 L390.10 90.76 L390.60 90.59 L391.10 90.46 L391.60 90.16 L392.10 89.96 L392.60 89.97 L393.10 89.44 L393.60 89.45 L394.10 89.61 L394.60 88.98 L395.10 89.37 L395.60 89.21 L396.10 89.07 L396.60 88.96 L397.10 88.68 L397.60 89.31 L398.10 88.05 L398.60 88.24 L399.10 87.79 L399.60 88.23 L400.10 88.23 L400.60 88.32 L401.10 87.44 L401.60 87.66 L402.10 87.04 L402.60 87.09 L403.10 87.11 L403.60 86.32 L404.10 86.49 L404.60 86.16 L405.10 86.23 L405.60 86.15 L406.10 85.29 L406.60 85.44 L407.10 84.84 L407.60 84.34 L408.10 84.43 L408.60 84.29 L409.10 83.86 L409.60 83.61 L410.10 84.00 L410.60 83.37 L411.10 83.33 L411.60 83.11 L412.10 82.43 L412.60 82.76 L413.10 81.81 L413.60 81.37 L414.10 80.72 L414.60 80.47 L415.10 80.26 L415.60 79.76 L416.10 79.36 L416.60 78.92 L417.10 77.94 L417.60 77.58 L418.10 77.15 L418.60 76.53 L419.10 75.70 L419.60 75.42 L420.10 74.54 L420.60 74.37 L421.10 73.14 L421.60 72.68 L422.10 71.26 L422.60 70.89 L423.10 70.22 L423.60 68.87 L424.10 67.87 L424.60 66.51 L425.10 65.07 L425.60 63.96 L426.10 62.58 L426.60 61.19 L427.10 59.53 L427.60 57.96 L428.10 55.55 L428.60 54.53 L429.10 52.50 L429.60 51.14 L430.10 50.52 L430.60 49.44 L431.10 48.63 L431.60 47.55 L432.10 47.27 L432.60 46.73 L433.10 46.63 L433.60 46.60 L434.10 47.25 L434.60 46.72 L435.10 47.41 L435.60 47.77 L436.10 48.32 L436.60 48.72 L437.10 49.14 L437.60 50.16 L438.10 51.47 L438.60 52.31 L439.10 52.85 L439.60 53.90 L440.10 54.60 L440.60 55.76 L441.10 56.03 L441.60 57.28 L442.10 58.14 L442.60 58.40 L443.10 59.81 L443.60 59.83 L444.10 60.53 L444.60 61.44 L445.10 61.69 L445.60 62.41 L446.10 62.54 L446.60 63.18 L447.10 63.70 L447.60 63.67 L448.10 64.61 L448.60 64.97 L449.10 65.06 L449.60 65.60 L450.10 65.91 L450.60 65.79 L451.10 66.44 L451.60 66.60 L452.10 66.60 L452.60 67.11 L453.10 66.91 L453.60 66.60 L454.10 67.68 L454.60 67.77 L455.10 68.32 L455.60 67.84 L456.10 68.29 L456.60 67.91 L457.10 67.94 L457.60 68.28 L458.10 68.53 L458.60 68.56 L459.10 68.97 L459.60 69.08 L460.10 68.49 L460.60 68.78 L461.10 69.51 L461.60 69.46 L462.10 68.83 L462.60 69.01 L463.10 69.84 L463.60 69.07 L464.10 69.73 L464.60 68.87 L465.10 69.41 L465.60 69.21 L466.10 69.61 L466.60 69.89 L467.10 69.67 L467.60 69.83 L468.10 69.87 L468.60 69.99 L469.10 69.59 L469.60 68.92 L470.10 68.99 L470.60 69.64 L471.10 69.51 L471.60 69.59 L472.10 69.13 L472.60 69.02 L473.10 68.56 L473.60 68.69 L474.10 68.89 L474.60 68.66 L475.10 68.31 L475.60 69.09 L476.10 68.61 L476.60 68.60 L477.10 68.47 L477.60 68.35 L478.10 67.98 L478.60 68.45 L479.10 67.97 L479.60 67.77 L480.10 68.33 L480.60 67.94 L481.10 68.01 L481.60 67.24 L482.10 68.19 L482.60 67.39 L483.10 67.23 L483.60 67.36 L484.10 67.12 L484.60 67.07 L485.10 67.38 L485.60 67.57 L486.10 67.02 L486.60 67.01 L487.10 66.94 L487.60 66.90 L488.10 66.40 L488.60 67.15 L489.10 66.19 L489.60 66.32 L490.10 67.00 L490.60 66.30 L491.10 65.96 L491.60 66.18 L492.10 66.72 L492.60 65.99 L493.10 65.57 L493.60 65.85 L494.10 65.78 L494.60 65.36 L495.10 65.57 L495.60 64.77 L496.10 65.44 L496.60 65.27 L497.10 65.14 L497.60 64.83 L498.10 65.29 L498.60 65.00 L499.10 65.09 L499.60 64.43 L500.10 64.71 L500.60 64.88 L501.10 64.68 L501.60 63.90 L502.10 64.03 L502.60 63.74 L503.10 63.72 L503.60 63.68 L504.10 64.05 L504.60 63.85 L505.10 63.26 L505.60 63.42 L506.10 62.86 L506.60 62.54 L507.10 62.23 L507.60 62.38 L508.10 63.05 L508.60 62.40 L509.10 62.36 L509.60 62.36 L510.10 61.37 L510.60 61.71 L511.10 61.64 L511.60 61.85 L512.10 61.46 L512.60 60.73 L513.10 60.57 L513.60 61.00 L514.10 60.82 L514.60 60.22 L515.10 60.08 L515.60 60.35 L516.10 59.81 L516.60 60.13 L517.10 59.81 L517.60 59.65 L518.10 60.14 L518.60 59.20 L519.10 58.96 L519.60 58.98 L520.10 58.29 L520.60 59.03 L521.10 58.84 L521.60 58.53 L522.10 58.33 L522.60 58.16 L523.10 57.58 L523.60 57.82 L524.10 57.69 L524.60 57.77 L525.10 57.46 L525.60 57.50 L526.10 57.24 L526.60 56.31 L527.10 56.50 L527.60 56.73 L528.10 56.26 L528.60 56.21 L529.10 56.28 L529.60 55.59 L530.10 55.75 L530.60 55.99" stroke="#28a463"/>
</g>
<rect x="367.6" y="9.6" width="163.60" height="131.60" fill="none" stroke="#252525" stroke-width="1.4"/>
<g stroke="#252525" stroke-width="1.1">
<line x1="367.60" y1="141.20" x2="367.60" y2="144.20"/>
<line x1="388.05" y1="141.20" x2="388.05" y2="142.80"/>
<line x1="408.50" y1="141.20" x2="408.50" y2="144.20"/>
<line x1="428.95" y1="141.20" x2="428.95" y2="142.80"/>
<line x1="449.40" y1="141.20" x2="449.40" y2="144.20"/>
<line x1="469.85" y1="141.20" x2="469.85" y2="142.80"/>
<line x1="490.30" y1="141.20" x2="490.30" y2="144.20"/>
<line x1="510.75" y1="141.20" x2="510.75" y2="142.80"/>
<line x1="531.20" y1="141.20" x2="531.20" y2="144.20"/>
<line x1="531.2" y1="20.1" x2="529.4000000000001" y2="20.1"/>
<line x1="531.2" y1="40.9" x2="529.4000000000001" y2="40.9"/>
<line x1="531.2" y1="61.6" x2="529.4000000000001" y2="61.6"/>
<line x1="531.2" y1="82.4" x2="529.4000000000001" y2="82.4"/>
<line x1="531.2" y1="103.2" x2="529.4000000000001" y2="103.2"/>
<line x1="531.2" y1="124.0" x2="529.4000000000001" y2="124.0"/>
</g>
<g font-size="11.1">
<text x="367.80" y="154.0" text-anchor="middle">630</text>
<text x="408.70" y="154.0" text-anchor="middle">635</text>
<text x="449.60" y="154.0" text-anchor="middle">640</text>
<text x="490.50" y="154.0" text-anchor="middle">645</text>
<text x="531.40" y="154.0" text-anchor="middle">650</text>
</g>
<text x="456.2" y="165.6" font-size="10.8" text-anchor="middle" textLength="81.2" lengthAdjust="spacingAndGlyphs">Wavelength (nm)</text>
<text transform="translate(360.7,73.5) rotate(-90)" font-size="10.3" text-anchor="middle" textLength="80.1" lengthAdjust="spacingAndGlyphs">Intensity<tspan font-weight="normal" stroke-width="0.3">(</tspan>Counts<tspan font-weight="normal" stroke-width="0.3">)</tspan></text>
<text x="443.8" y="24.9" font-size="11.1">638.1 nm</text>
<g stroke="#000" fill="#000">
<line x1="450.40" y1="28.40" x2="437.74" y2="40.50" stroke-width="1.10"/><polygon stroke="none" points="434.50,43.60 439.93,41.18 437.17,38.28"/>
</g>
<line x1="368.20" y1="17.30" x2="394.50" y2="17.30" stroke="#111" stroke-width="1.10"/>
<text x="397.60" y="21.30" font-size="11.60">S<tspan font-size="8.20" dy="3.20" font-weight="bold">0</tspan></text>
<line x1="368.20" y1="34.40" x2="394.50" y2="34.40" stroke="#e8303a" stroke-width="1.10"/>
<text x="397.60" y="38.40" font-size="11.60">S<tspan font-size="8.20" dy="3.20" font-weight="bold">11</tspan></text>
<line x1="368.20" y1="51.80" x2="394.50" y2="51.80" stroke="#1860d2" stroke-width="1.10"/>
<text x="397.60" y="55.80" font-size="11.60">S<tspan font-size="8.20" dy="3.20" font-weight="bold">12</tspan></text>
<line x1="368.20" y1="69.00" x2="394.50" y2="69.00" stroke="#28a463" stroke-width="1.10"/>
<text x="397.60" y="73.00" font-size="11.60">S<tspan font-size="8.20" dy="3.20" font-weight="bold">13</tspan></text>
</svg>
</body></html>
